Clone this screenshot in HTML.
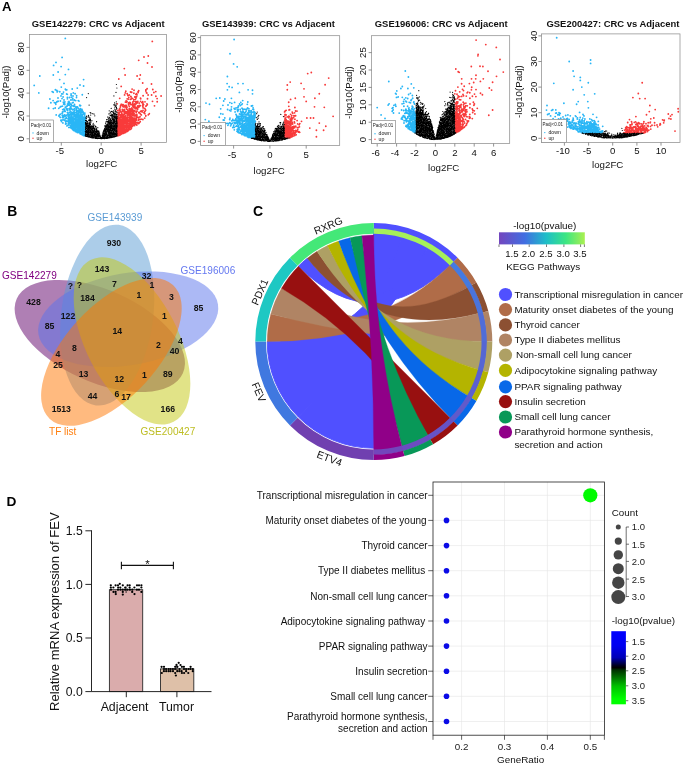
<!DOCTYPE html>
<html><head><meta charset="utf-8"><title>Figure</title>
<style>html,body{margin:0;padding:0;background:#fff}svg{display:block}text{font-family:"Liberation Sans", Arial, sans-serif}</style>
</head><body>
<svg width="685" height="764" viewBox="0 0 685 764">
<rect width="685" height="764" fill="#fff"/>
<path d="M34.2 85.4h0M38.8 92.9h0M39.8 76h0M48.6 108.2h0M49.9 99h0M50.9 102.7h0M52.2 91.6h0M53.1 100.6h0M53.2 92.2h0M53.3 75h0M53.4 108.6h0M53.6 65.4h0M54.4 102.6h0M55.2 108h0M55.4 89.7h0M55.6 103.2h0M55.8 104.3h0M56 102.6h0M56 62.4h0M56.2 114.9h0M56.8 90.4h0M57 101.7h0M57.2 91.9h0M57.6 91.2h0M58 98h0M58.1 101.2h0M58.1 72h0M58.8 108.3h0M58.8 115.9h0M59.5 115h0M59.7 79.6h0M59.8 91.7h0M60 117.1h0M60.1 107.1h0M60.3 114.2h0M60.4 101h0M60.4 117.4h0M60.9 120.2h0M61 106.5h0M61 95.9h0M61.1 66.6h0M61.3 87.1h0M61.5 121.5h0M61.6 120.2h0M61.7 93.9h0M62 98.6h0M62 113.4h0M62.1 57.4h0M62.3 115.5h0M62.5 106.1h0M62.5 111.9h0M62.6 115.3h0M62.6 112.7h0M62.6 117.5h0M62.7 109.6h0M62.9 122.9h0M62.9 93.8h0M63.1 119.7h0M63.1 96.9h0M63.4 102.2h0M63.4 117.6h0M63.5 92.1h0M63.6 116.4h0M63.6 104.1h0M64 108.9h0M64 100h0M64 83.4h0M64.1 109.8h0M64.2 111.3h0M64.3 116.5h0M64.4 115h0M64.6 120.3h0M64.6 102.9h0M64.8 104.5h0M64.8 109.9h0M64.9 101.8h0M65 119.1h0M65.2 111.4h0M65.3 38.4h0M65.3 74.6h0M65.3 107.2h0M65.3 115.5h0M65.4 89.2h0M65.5 118.6h0M65.6 121.2h0M65.6 124h0M65.8 89.8h0M65.8 122.8h0M66 123.8h0M66 117.1h0M66.1 123.4h0M66.3 108.3h0M66.4 115.2h0M66.6 106.2h0M66.7 94h0M66.8 89.8h0M66.8 121h0M66.8 118.3h0M66.9 109.8h0M67 125.9h0M67 106.3h0M67.2 108.9h0M67.3 125.3h0M67.3 94.3h0M67.4 97.5h0M67.4 112.6h0M67.4 98.8h0M67.5 104.1h0M67.7 110.3h0M67.7 121.2h0M67.9 114.5h0M67.9 112.3h0M67.9 105.1h0M68 113.1h0M68.1 116.6h0M68.2 114.2h0M68.2 115.2h0M68.2 119.1h0M68.3 123.4h0M68.3 101.9h0M68.3 121.4h0M68.3 120.8h0M68.4 103.5h0M68.4 102.2h0M68.5 69.4h0M68.6 122.7h0M68.7 124.3h0M68.9 123.9h0M68.9 125h0M68.9 127.4h0M69 101.4h0M69 117.8h0M69 108.8h0M69.1 114.9h0M69.2 105.2h0M69.2 119.7h0M69.2 122.5h0M69.4 109h0M69.4 121.3h0M69.5 97.5h0M69.6 102.6h0M69.6 115.7h0M69.6 118.6h0M69.8 112.7h0M69.8 109.8h0M69.9 115.4h0M70.1 121.8h0M70.2 111.2h0M70.2 117h0M70.2 118.2h0M70.2 103.8h0M70.3 120.4h0M70.3 119.4h0M70.3 107.2h0M70.3 123.5h0M70.4 108.8h0M70.4 114.4h0M70.5 127.6h0M70.6 125.6h0M70.6 126.4h0M70.7 127.8h0M70.7 122.5h0M70.8 104.6h0M70.8 106.7h0M70.8 125.4h0M70.8 120.9h0M70.9 114.6h0M70.9 100h0M71 111.9h0M71.1 114h0M71.1 93.9h0M71.1 95.5h0M71.3 128.1h0M71.3 119.3h0M71.3 104.4h0M71.4 118h0M71.5 118.4h0M71.5 123.5h0M71.5 97.4h0M71.5 108.5h0M71.5 124.1h0M71.5 127.2h0M71.7 116.5h0M71.7 108.7h0M71.8 105.6h0M71.8 115.7h0M72 122.1h0M72 118.3h0M72 112.7h0M72 124.8h0M72 114.7h0M72.1 125.4h0M72.2 89h0M72.3 127.2h0M72.3 120.2h0M72.3 128.6h0M72.3 102.8h0M72.3 112.5h0M72.4 129.3h0M72.4 121.8h0M72.4 109.7h0M72.5 126.4h0M72.5 99.8h0M72.5 119.7h0M72.5 123.7h0M72.6 118.3h0M72.8 98.3h0M72.8 112.9h0M72.9 128.3h0M72.9 121.3h0M72.9 118.7h0M72.9 113.9h0M73 96h0M73 127.7h0M73.1 123.8h0M73.1 102.5h0M73.1 117.7h0M73.1 120.4h0M73.2 128.8h0M73.3 125.7h0M73.3 112.5h0M73.3 105.9h0M73.3 92.9h0M73.4 117h0M73.4 130.2h0M73.5 114.8h0M73.5 122.7h0M73.5 124.4h0M73.6 128.6h0M73.7 106.2h0M73.8 114.6h0M73.8 127.2h0M73.8 109.7h0M73.8 121.6h0M73.9 130.6h0M73.9 119h0M73.9 122.6h0M74 125.2h0M74 111.6h0M74 119.8h0M74.1 129.9h0M74.2 100.3h0M74.2 115.9h0M74.3 108.7h0M74.3 99.8h0M74.4 129.5h0M74.4 123.3h0M74.4 113.1h0M74.4 124.6h0M74.5 116.5h0M74.5 104.4h0M74.5 110.3h0M74.6 121.9h0M74.7 126.5h0M74.7 114.3h0M74.7 106.1h0M74.7 113h0M74.8 115.9h0M74.8 115.2h0M74.8 118.6h0M74.9 127.6h0M75 130h0M75 120.1h0M75.1 124.4h0M75.1 93.7h0M75.1 125.8h0M75.2 129.1h0M75.2 120.3h0M75.3 117.3h0M75.3 123.6h0M75.4 122.4h0M75.5 131.6h0M75.5 127.8h0M75.5 112.4h0M75.5 131.2h0M75.6 125h0M75.6 128.3h0M75.6 107h0M75.6 127h0M75.7 123.1h0M75.7 124.7h0M75.7 100.6h0M75.8 130.4h0M75.8 116.8h0M75.9 112.6h0M75.9 121.8h0M76 109h0M76 129.5h0M76 122.2h0M76.1 131.6h0M76.1 117.8h0M76.1 126.8h0M76.1 119.2h0M76.3 112.4h0M76.3 110h0M76.3 119.9h0M76.3 120.3h0M76.3 114.7h0M76.4 115.6h0M76.4 114.4h0M76.5 131.5h0M76.5 115.9h0M76.5 119.2h0M76.5 97.6h0M76.5 114.9h0M76.6 121.1h0M76.6 107h0M76.6 95.7h0M76.7 124.4h0M76.8 123.3h0M76.9 111.2h0M76.9 126.2h0M76.9 132.1h0M76.9 125.4h0M76.9 127.3h0M77 114h0M77.1 119.8h0M77.1 107.8h0M77.1 117.2h0M77.2 131.1h0M77.3 129.3h0M77.3 88.1h0M77.3 130.4h0M77.4 122.3h0M77.4 121.9h0M77.4 128.2h0M77.4 111.8h0M77.4 132.6h0M77.5 124.2h0M77.5 129.1h0M77.5 107h0M77.5 124.9h0M77.6 116.7h0M77.7 132.4h0M77.7 127.1h0M77.7 114.7h0M77.8 110.3h0M77.8 113.7h0M77.8 119.7h0M77.9 115.8h0M77.9 120.5h0M77.9 131.1h0M78 122.6h0M78 117.9h0M78.1 118.7h0M78.1 123.7h0M78.1 126.2h0M78.2 110.8h0M78.2 129.8h0M78.3 121.8h0M78.3 128.5h0M78.3 100.6h0M78.3 108.1h0M78.4 113h0M78.4 114.8h0M78.4 132.3h0M78.4 114.1h0M78.5 120.3h0M78.5 122.9h0M78.7 110.9h0M78.7 111.6h0M78.8 125.6h0M78.8 119.1h0M78.9 123.6h0M78.9 132.6h0M78.9 126.2h0M78.9 124.8h0M78.9 126.8h0M79 101.1h0M79.1 116.6h0M79.1 128h0M79.1 131.5h0M79.1 119.9h0M79.1 128.7h0M79.2 121.7h0M79.2 109.6h0M79.2 115.4h0M79.3 130.6h0M79.3 118.2h0M79.4 120.9h0M79.4 118.3h0M79.4 109.3h0M79.4 131.6h0M79.5 121.5h0M79.5 126.2h0M79.7 105.2h0M79.7 118.8h0M79.7 111.7h0M79.8 131.4h0M79.9 125.6h0M79.9 123h0M79.9 115.7h0M79.9 124.2h0M79.9 112.9h0M80 85h0M80 129.7h0M80 116.8h0M80.1 119.8h0M80.1 105.9h0M80.1 122.8h0M80.1 110.7h0M80.2 110.5h0M80.2 132.6h0M80.2 129h0M80.2 128.3h0M80.2 133.8h0M80.2 114.7h0M80.2 126.9h0M80.3 116h0M80.3 118.1h0M80.4 115.1h0M80.4 131.3h0M80.4 128.5h0M80.4 121h0M80.4 123.9h0M80.4 112.4h0M80.4 110.1h0M80.5 122.1h0M80.5 125.3h0M80.5 108.7h0M80.6 105.6h0M80.8 119.4h0M80.8 130.4h0M80.8 126.8h0M80.8 132.3h0M80.9 116.9h0M81 133.3h0M81 114h0M81 122.4h0M81 110.9h0M81.1 129.5h0M81.1 133.6h0M81.2 126.9h0M81.2 119.1h0M81.2 124.6h0M81.2 121.1h0M81.2 118.2h0M81.2 133.4h0M81.3 119.3h0M81.3 112.8h0M81.4 134.3h0M81.4 130.4h0M81.4 112.5h0M81.5 123.6h0M81.5 116.7h0M81.6 126.6h0M81.6 129.4h0M81.7 118.7h0M81.7 114.9h0M81.8 122.8h0M81.8 121.3h0M81.9 134.6h0M82 109.5h0M82 130.8h0M82 125.8h0M82 110.7h0M82.1 132.4h0M82.1 127.4h0M82.1 116.2h0M82.2 128.4h0M82.2 124.5h0M82.2 127.9h0M82.3 132.4h0M82.3 122.7h0M82.3 94.7h0M82.4 122h0M82.5 131.5h0M82.5 117.8h0M82.5 118.7h0M82.6 124.4h0M82.6 119.6h0M82.6 133.7h0M82.6 125.2h0M82.6 121h0M82.7 129.2h0M82.7 112.6h0M82.8 132.8h0M82.8 130.4h0M82.8 114.7h0M82.8 116.7h0M82.9 123.6h0M82.9 111.4h0M83.1 126h0M83.1 135.2h0M83.1 127.5h0M83.2 129.4h0M83.2 128.3h0M83.2 112.4h0M83.2 120.9h0M83.3 129.8h0M83.3 117.7h0M83.3 117.3h0M83.4 114h0M83.4 123.8h0M83.4 127.6h0M83.5 112.7h0M83.5 132.9h0M83.6 124.1h0M83.6 79.6h0M83.6 86h0M83.7 125.3h0M83.8 119.4h0M83.8 135.5h0M83.9 122.7h0M83.9 134.4h0M83.9 122h0M83.9 126.6h0M83.9 131.7h0M83.9 130.6h0M84 118.9h0M84 135.3h0M84.1 123.8h0M84.1 124.5h0M84.2 130.3h0M84.3 132h0M84.3 135.7h0M84.5 119.8h0M84.6 133.3h0M84.6 121.8h0M84.6 134.2h0M84.6 117.8h0M84.7 114.2h0M84.7 115.8h0M84.7 122.2h0M84.7 125.1h0M84.8 129.1h0M84.8 126.2h0M84.8 127.3h0M84.8 134.8h0M84.9 113.1h0M84.9 130.9h0M85 127.8h0M85 120.2h0M85 132h0M85 119.8h0M85 122.6h0M85.1 128.8h0M85.1 124.6h0M85.1 126.7h0M85.1 118.8h0M85.1 126.9h0M85.1 123.6h0M85.1 117.9h0M85.1 128.4h0M85.1 133.3h0M85.1 133.8h0M85.1 130.3h0M85.1 135.5h0M85.1 117h0M85.2 131.4h0M85.2 135h0M85.2 125.7h0M85.2 121.5h0" stroke="#29b6f6" stroke-width="1.85" stroke-linecap="round" fill="none"/>
<path d="M117.2 119.4h0M117.2 130.6h0M117.2 132.1h0M117.2 127.2h0M117.2 135h0M117.2 117.1h0M117.2 135.5h0M117.2 125.4h0M117.2 128h0M117.2 120.3h0M117.2 129.6h0M117.3 124.6h0M117.3 133.7h0M117.3 130.7h0M117.3 122.2h0M117.3 123.4h0M117.3 117.4h0M117.3 132.8h0M117.3 126.5h0M117.3 103.8h0M117.3 123.9h0M117.4 123h0M117.4 126.4h0M117.4 135.5h0M117.5 127.5h0M117.5 116.8h0M117.5 131h0M117.5 110.4h0M117.5 134.7h0M117.6 120.6h0M117.7 129.1h0M117.7 130.4h0M117.7 117.3h0M117.8 125.4h0M117.8 124h0M117.9 121.3h0M118 128.6h0M118.1 118.8h0M118.1 132h0M118.1 134.1h0M118.2 114.4h0M118.2 120.1h0M118.2 112.5h0M118.3 115.4h0M118.3 132.6h0M118.3 127.3h0M118.3 133.7h0M118.4 117h0M118.4 135.6h0M118.4 115.2h0M118.4 113.7h0M118.5 121.7h0M118.5 130.1h0M118.5 124.9h0M118.5 132h0M118.5 119.2h0M118.5 132.6h0M118.6 131h0M118.6 135.4h0M118.6 120.9h0M118.8 79h0M118.9 118h0M119 119.7h0M119 112.8h0M119 123h0M119 126.3h0M119 129.5h0M119 123.3h0M119.1 128.5h0M119.2 125.1h0M119.2 110h0M119.2 135.2h0M119.3 120.1h0M119.3 112.2h0M119.3 112.7h0M119.4 121.1h0M119.5 121h0M119.6 108.7h0M119.6 131.8h0M119.6 122.3h0M119.6 118h0M119.7 98.3h0M119.7 114.3h0M119.7 128.6h0M119.8 118.5h0M119.8 124.7h0M119.8 134.2h0M119.9 125.2h0M119.9 132.9h0M119.9 127.2h0M119.9 110.3h0M119.9 123.8h0M120 130.6h0M120 129.4h0M120 115h0M120.1 125.9h0M120.1 109.1h0M120.1 131.1h0M120.2 115.6h0M120.2 116.8h0M120.2 119.2h0M120.2 128.4h0M120.3 132.3h0M120.3 120.1h0M120.3 125.5h0M120.4 133.1h0M120.4 134.7h0M120.4 120.5h0M120.4 131.5h0M120.4 121.5h0M120.4 107h0M120.4 126.5h0M120.5 128.8h0M120.5 116.1h0M120.6 105.6h0M120.6 124.2h0M120.6 122.3h0M120.6 123.7h0M120.7 111.7h0M120.7 117.4h0M120.8 134h0M120.9 127.1h0M121 114.7h0M121 117h0M121.1 130.2h0M121.1 104.4h0M121.2 86.4h0M121.2 120.2h0M121.3 124.2h0M121.3 132.7h0M121.3 126h0M121.3 121.6h0M121.3 128.7h0M121.3 134h0M121.3 122.1h0M121.4 131.6h0M121.4 116.4h0M121.4 125.2h0M121.4 123.7h0M121.5 126.9h0M121.5 119.3h0M121.5 119.2h0M121.5 130.1h0M121.6 128.2h0M121.7 104.3h0M121.7 112.2h0M121.7 113.3h0M121.8 130.9h0M121.8 113.7h0M121.9 117.6h0M122 115.1h0M122.2 119.8h0M122.2 133.3h0M122.2 131.9h0M122.3 109.4h0M122.3 110.1h0M122.4 105.8h0M122.4 122.2h0M122.4 114.7h0M122.4 126.7h0M122.5 121h0M122.5 117.2h0M122.5 129.5h0M122.6 123.2h0M122.6 117.9h0M122.6 130.6h0M122.6 115.7h0M122.6 124.9h0M122.7 130.3h0M122.8 125.7h0M122.8 126.8h0M122.8 111.1h0M122.9 133.6h0M122.9 106.4h0M122.9 128.3h0M122.9 119h0M123 121.3h0M123.1 104.6h0M123.1 118.3h0M123.1 115.3h0M123.2 114.4h0M123.2 121.3h0M123.2 127.5h0M123.2 117.9h0M123.3 106.7h0M123.3 123.9h0M123.4 122.1h0M123.4 128.5h0M123.4 126.5h0M123.5 116.3h0M123.5 130.5h0M123.5 120.3h0M123.6 132h0M123.6 129.1h0M123.6 133.1h0M123.8 120.1h0M123.8 125h0M123.9 111.8h0M123.9 124.9h0M123.9 116.8h0M123.9 130.8h0M123.9 109.9h0M124 114.4h0M124 124.4h0M124.1 116.6h0M124.1 123.1h0M124.2 119.2h0M124.2 131.8h0M124.2 126.8h0M124.3 121.6h0M124.3 68.6h0M124.4 112.5h0M124.4 105.7h0M124.4 112.7h0M124.4 129.4h0M124.4 114.6h0M124.4 127.8h0M124.4 109.4h0M124.4 126.6h0M124.4 123h0M124.5 125.9h0M124.5 117.8h0M124.6 94.9h0M124.7 132.7h0M124.7 106.9h0M124.7 110.8h0M124.7 131.1h0M124.7 121.1h0M124.8 129.7h0M124.8 119.9h0M124.9 128.8h0M125 113.8h0M125.1 120.5h0M125.1 75h0M125.2 112.1h0M125.2 119.2h0M125.3 92.9h0M125.4 123.2h0M125.4 122h0M125.4 115.8h0M125.4 102.1h0M125.4 105.5h0M125.5 126.6h0M125.5 132.4h0M125.6 119.6h0M125.6 131.1h0M125.6 116.5h0M125.6 125.6h0M125.6 130.1h0M125.7 113.2h0M125.7 117.6h0M125.8 122.9h0M125.8 127h0M125.8 124.1h0M125.8 91.2h0M125.9 118.2h0M125.9 106.2h0M125.9 117.1h0M126 119.5h0M126.1 113.3h0M126.1 131.8h0M126.1 130.5h0M126.1 112.4h0M126.1 100.9h0M126.2 107.7h0M126.2 111.6h0M126.3 102.2h0M126.4 120.6h0M126.4 128.7h0M126.4 105.5h0M126.4 122.3h0M126.4 131.3h0M126.5 109.1h0M126.6 125h0M126.6 121.3h0M126.7 128h0M126.7 127.4h0M126.7 124.3h0M126.7 123.2h0M126.8 126.5h0M126.8 127.9h0M126.8 129.2h0M126.9 124h0M126.9 120.6h0M127 118.9h0M127 101.4h0M127 130.6h0M127 121.5h0M127.1 114h0M127.1 117.3h0M127.1 107.1h0M127.1 127.4h0M127.1 123.5h0M127.2 98.8h0M127.2 93.7h0M127.3 115.3h0M127.3 131.4h0M127.4 126.6h0M127.4 122.3h0M127.5 120h0M127.5 117.1h0M127.5 109.3h0M127.5 125.3h0M127.6 111.2h0M127.6 113h0M127.7 115.6h0M127.8 110.3h0M127.8 126.5h0M127.8 131h0M127.9 95.5h0M128 123h0M128 121.5h0M128.1 113.8h0M128.1 117.1h0M128.2 117.9h0M128.2 127.2h0M128.2 124.9h0M128.2 125.5h0M128.3 129.4h0M128.4 111.1h0M128.4 103h0M128.4 112.8h0M128.6 114.8h0M128.6 130.3h0M128.6 120.8h0M128.6 99.1h0M128.6 104.7h0M128.6 128.5h0M128.7 123.3h0M128.7 129.8h0M128.7 120.9h0M128.8 111h0M128.8 97.3h0M128.8 112.9h0M128.8 103.3h0M129 124.1h0M129 119.7h0M129.1 128.2h0M129.2 123.9h0M129.2 108.8h0M129.2 114h0M129.2 117.1h0M129.3 126.6h0M129.3 95h0M129.3 106.5h0M129.4 118h0M129.5 102.4h0M129.5 129.3h0M129.5 125h0M129.5 115.6h0M129.6 122.8h0M129.6 127.6h0M129.6 121.3h0M129.7 121.4h0M129.8 119h0M129.8 110.2h0M129.9 120.5h0M129.9 124.2h0M129.9 129.3h0M130 126.5h0M130 113.7h0M130 108.8h0M130.1 112.2h0M130.2 120.1h0M130.2 117.4h0M130.2 127.6h0M130.2 103.5h0M130.2 122.6h0M130.3 102.7h0M130.3 113.1h0M130.4 111h0M130.4 123.3h0M130.4 114.5h0M130.5 92h0M130.5 116.5h0M130.6 99.3h0M130.6 104.6h0M130.7 114.7h0M130.7 129.3h0M130.7 117.7h0M130.8 96.3h0M130.8 121.9h0M130.8 125.9h0M130.8 108.9h0M130.8 111h0M131 122.3h0M131.1 111.9h0M131.1 99h0M131.1 97h0M131.2 116.7h0M131.3 125.3h0M131.4 114h0M131.4 115.9h0M131.4 128.2h0M131.4 127.7h0M131.5 110.2h0M131.5 123.9h0M131.5 120.7h0M131.5 108.4h0M131.5 119.5h0M131.6 126.3h0M131.6 118.7h0M131.7 92.2h0M131.7 125.6h0M131.8 122.3h0M131.8 126.8h0M131.8 119.6h0M131.8 121.9h0M131.9 107.9h0M131.9 112h0M131.9 113.4h0M132 124.8h0M132 123.7h0M132.1 114.1h0M132.1 115.9h0M132.1 89.1h0M132.2 104.4h0M132.3 117.9h0M132.4 109.1h0M132.5 110.5h0M132.5 103.3h0M132.5 105.4h0M132.5 121.1h0M132.5 98.4h0M132.6 126.1h0M132.7 106h0M132.8 118h0M132.9 114.1h0M132.9 101.9h0M133 122.5h0M133.1 112.2h0M133.1 121.3h0M133.1 123.5h0M133.2 115.4h0M133.2 120h0M133.3 118.6h0M133.3 110.8h0M133.3 125.4h0M133.4 112.7h0M133.4 110.5h0M133.4 114.9h0M133.7 106.3h0M133.7 99.7h0M133.7 104.3h0M133.7 107.5h0M133.9 101.3h0M133.9 124.1h0M133.9 93.2h0M134 90.2h0M134 114.8h0M134 118.1h0M134 105.5h0M134 123.7h0M134.1 121.4h0M134.1 116.1h0M134.1 111.8h0M134.2 122.1h0M134.3 103.9h0M134.3 113.8h0M134.4 110.7h0M134.4 119.8h0M134.6 125.5h0M134.6 118.2h0M134.7 115.5h0M134.7 124.5h0M134.8 97h0M134.9 119.9h0M135.1 123.2h0M135.1 122.9h0M135.1 106.8h0M135.2 108.5h0M135.3 119.1h0M135.4 122.1h0M135.4 107.4h0M135.4 104.7h0M135.4 99.5h0M135.6 102h0M135.6 121.2h0M135.6 97.1h0M135.6 119.5h0M135.7 115.7h0M135.7 123.5h0M135.9 94.4h0M135.9 108.8h0M135.9 114.9h0M135.9 120.4h0M136 111.2h0M136 98.1h0M136.1 112.4h0M136.1 102.9h0M136.1 122.6h0M136.2 124.2h0M136.3 119h0M136.3 103.6h0M136.3 117.1h0M136.4 118h0M136.5 101.6h0M136.5 93.6h0M136.5 124.1h0M136.5 120h0M136.6 115.6h0M136.6 96.6h0M136.8 125.1h0M136.8 107.3h0M136.8 114.3h0M136.9 115.4h0M137 111.2h0M137.1 94.8h0M137.1 76h0M137.3 117.4h0M137.5 107.9h0M137.6 109.2h0M137.6 102.8h0M137.7 122.3h0M137.8 106h0M137.8 117.2h0M137.8 101.5h0M137.9 123.2h0M138.1 92.6h0M138.1 91.7h0M138.5 120.3h0M138.6 123.6h0M138.7 119.3h0M138.7 60.3h0M138.7 90.7h0M138.8 107.2h0M138.8 117.6h0M138.9 112.5h0M138.9 112.8h0M139.1 122.9h0M139.3 105.4h0M139.3 103.1h0M139.4 112.3h0M139.5 106.2h0M139.5 79h0M139.9 119.4h0M140 116.7h0M140.2 121.7h0M140.3 75h0M140.3 113.8h0M140.5 105.6h0M140.5 98.2h0M140.6 101.4h0M140.7 98.7h0M140.8 111.3h0M141.2 110.8h0M141.3 114.9h0M141.3 119.1h0M141.9 102.6h0M142.2 111.9h0M142.7 83h0M142.7 101.7h0M142.9 119.5h0M142.9 105.8h0M142.9 104.7h0M142.9 106.7h0M143 110.3h0M143 103.2h0M143.1 95.7h0M143.2 107.9h0M143.6 104.6h0M144 57h0M144 112.4h0M144.1 112.9h0M144.7 118.1h0M144.8 108.3h0M144.9 111.5h0M145 101.8h0M145 113.8h0M145.4 109.4h0M145.6 110.2h0M145.8 116h0M145.8 106.1h0M145.8 89.9h0M145.9 91h0M145.9 115.8h0M146.2 105.9h0M146.5 92.7h0M146.9 93.1h0M147 104h0M147.1 88.7h0M147.3 104.7h0M147.5 98.7h0M147.5 63h0M148.1 95h0M148.3 56h0M148.3 114.8h0M149.3 113.7h0M151.5 84h0M151.6 95h0M152 67h0M152.3 41.4h0M152.5 101.3h0M152.8 89.5h0M153.9 92.5h0M154.5 105.8h0M155.8 91.6h0M155.9 96.2h0M157.1 98.6h0M157.2 101.7h0M161.1 96h0" stroke="#f83a3a" stroke-width="1.85" stroke-linecap="round" fill="none"/>
<path d="M85.3 131.6h0M85.3 135.4h0M85.4 134.6h0M85.4 131.6h0M85.5 134.7h0M85.5 122.4h0M85.5 127.8h0M85.5 129.5h0M85.5 124.1h0M85.5 123h0M85.5 120.5h0M85.6 136.2h0M85.6 123.9h0M85.6 133.3h0M85.7 126h0M85.7 127h0M85.7 129h0M85.7 132.7h0M85.7 128.2h0M85.8 124.9h0M85.9 130.7h0M85.9 130h0M85.9 117.9h0M86 126.7h0M86.1 132.5h0M86.2 125.7h0M86.2 120.2h0M86.2 133.7h0M86.2 123.1h0M86.3 125.3h0M86.3 128.5h0M86.3 131.4h0M86.3 131.9h0M86.3 123.7h0M86.3 124.8h0M86.3 136.4h0M86.4 130.8h0M86.4 135.8h0M86.4 118.3h0M86.4 128.7h0M86.5 134h0M86.6 134.8h0M86.6 127.8h0M86.6 120.5h0M86.6 97.6h0M86.7 122h0M86.7 116h0M86.7 121.4h0M86.7 116.8h0M86.7 130.5h0M86.8 134.9h0M86.8 126.4h0M86.8 128h0M86.8 125.8h0M86.9 136.5h0M86.9 132.4h0M87 123.5h0M87 127.7h0M87 124.4h0M87 125.5h0M87 129h0M87.1 131.7h0M87.1 136.1h0M87.1 134.2h0M87.3 133.5h0M87.3 129.6h0M87.4 131.3h0M87.4 132.2h0M87.4 124.3h0M87.5 131h0M87.6 136.7h0M87.7 133.2h0M87.7 129.4h0M87.7 132.5h0M87.7 121.7h0M87.7 122.9h0M87.8 126.5h0M87.8 125.3h0M87.8 135.7h0M87.8 135.2h0M87.9 127.5h0M88 130.1h0M88 133.9h0M88 128.4h0M88 126.2h0M88.1 123.7h0M88.1 130.6h0M88.1 131.3h0M88.2 117.2h0M88.3 135.9h0M88.3 125.3h0M88.3 93.6h0M88.4 115.3h0M88.5 134h0M88.5 120.2h0M88.5 132.4h0M88.5 126.8h0M88.6 133.5h0M88.6 137.1h0M88.6 129.8h0M88.7 128.6h0M88.7 134.7h0M88.7 131.7h0M88.7 125.9h0M88.8 116.1h0M88.8 129.2h0M88.8 136.5h0M88.8 130.2h0M88.8 127.6h0M88.9 133.2h0M89 130.6h0M89 129.9h0M89 124.7h0M89 128.7h0M89.1 125.6h0M89.1 123h0M89.1 136.4h0M89.1 127h0M89.1 105.1h0M89.2 135.3h0M89.2 127.6h0M89.2 131.5h0M89.3 132.4h0M89.3 122.3h0M89.3 134.2h0M89.3 120.1h0M89.4 135.6h0M89.4 126.3h0M89.5 128.6h0M89.5 120.8h0M89.5 123.6h0M89.6 131.8h0M89.6 136.9h0M89.6 135.9h0M89.7 124.9h0M89.7 119.2h0M89.8 129.1h0M89.8 136.2h0M89.8 117.6h0M89.8 126.6h0M89.9 118.2h0M89.9 123.4h0M90 127.2h0M90 133.8h0M90 132.1h0M90.1 137.4h0M90.1 132.5h0M90.1 131.3h0M90.1 126h0M90.1 130.4h0M90.2 128.2h0M90.2 134.6h0M90.2 129.6h0M90.2 112.6h0M90.3 124.6h0M90.4 134.3h0M90.4 119.9h0M90.4 129.8h0M90.5 120.9h0M90.5 126h0M90.5 124.6h0M90.5 119.4h0M90.5 127.5h0M90.5 128.3h0M90.6 122.9h0M90.7 130.5h0M90.7 132.6h0M90.7 131.6h0M90.7 135.8h0M90.7 127.1h0M90.7 115.1h0M90.8 133.2h0M90.9 135.1h0M91 137.6h0M91 131.5h0M91 136.6h0M91 113.2h0M91 137.4h0M91 122h0M91.1 128.8h0M91.1 134.6h0M91.1 134.7h0M91.1 133.7h0M91.2 136.3h0M91.3 126.7h0M91.3 137.1h0M91.4 127.7h0M91.4 131.5h0M91.5 129.9h0M91.5 129.2h0M91.5 132.8h0M91.6 125.8h0M91.6 135.6h0M91.7 128h0M91.7 137.7h0M91.7 132.2h0M91.8 134h0M91.9 130.3h0M91.9 120.7h0M91.9 132.6h0M92 131.5h0M92 136.3h0M92.2 135h0M92.3 129.9h0M92.3 137.9h0M92.3 133.2h0M92.4 126.4h0M92.4 127.8h0M92.4 130.6h0M92.4 135.8h0M92.4 128.2h0M92.4 133.9h0M92.5 129h0M92.6 137.2h0M92.6 132.2h0M92.6 133.8h0M92.7 130.1h0M92.7 135.7h0M92.7 130.6h0M92.7 137h0M92.8 113.7h0M92.9 134.4h0M92.9 124.9h0M92.9 132.8h0M93 135.4h0M93 126.9h0M93.1 128.5h0M93.1 128.7h0M93.1 136.7h0M93.1 126.3h0M93.2 123.3h0M93.3 138.1h0M93.3 131.4h0M93.3 127.2h0M93.4 131.7h0M93.4 137.7h0M93.4 136.6h0M93.4 132h0M93.5 128.4h0M93.5 127.4h0M93.5 126.8h0M93.5 133.2h0M93.5 137.4h0M93.5 126.4h0M93.6 133h0M93.6 134.8h0M93.6 128.7h0M93.7 135.4h0M93.8 130.9h0M93.9 124.9h0M93.9 134.5h0M93.9 130.2h0M94.1 129.6h0M94.1 114.1h0M94.2 125.2h0M94.2 128.8h0M94.2 128h0M94.2 130.1h0M94.3 132.8h0M94.4 129.8h0M94.4 136.2h0M94.4 134.2h0M94.5 135.9h0M94.5 131h0M94.5 133.5h0M94.5 132.1h0M94.7 137.2h0M94.7 137.8h0M94.8 115.8h0M94.8 135.2h0M94.9 134.1h0M94.9 138h0M94.9 133.7h0M95 129.6h0M95 130.7h0M95.1 128.3h0M95.1 126.8h0M95.2 136.1h0M95.2 131.4h0M95.2 138.4h0M95.4 131.7h0M95.4 134.9h0M95.4 133.1h0M95.5 136.5h0M95.5 137.5h0M95.6 126.2h0M95.6 133.7h0M95.7 132.2h0M95.8 136.9h0M95.8 133.9h0M95.9 137.1h0M96.2 129.6h0M96.2 138.1h0M96.2 127.1h0M96.2 132.7h0M96.2 130.8h0M96.2 135.7h0M96.3 138.4h0M96.3 131.6h0M96.3 129.3h0M96.3 134.8h0M96.4 136.4h0M96.4 137.3h0M96.5 138.4h0M96.5 132.5h0M96.5 128.6h0M96.5 131.3h0M96.6 134.3h0M96.6 135.5h0M96.6 121.7h0M96.6 129.4h0M96.7 134.7h0M96.7 132.2h0M96.8 133.8h0M96.9 138.2h0M97 130h0M97 130.7h0M97.1 131.7h0M97.2 136.7h0M97.2 130.9h0M97.2 138.3h0M97.5 135.9h0M97.5 134.2h0M97.6 131.6h0M97.6 133.1h0M97.7 138.6h0M97.7 135.1h0M97.8 127.7h0M97.9 137.6h0M97.9 132.9h0M98 133.8h0M98 137.6h0M98 133h0M98 135.7h0M98.1 130.8h0M98.1 132h0M98.2 137.3h0M98.3 134.6h0M98.3 131.6h0M98.4 136.7h0M98.5 135.3h0M98.6 138.5h0M98.6 134.4h0M98.7 133.2h0M98.7 136.8h0M98.8 137h0M98.9 131.7h0M98.9 131h0M99 136h0M99.1 135.2h0M99.1 138.5h0M99.2 138.3h0M99.3 132.6h0M99.6 133.7h0M99.7 136.8h0M99.7 134h0M99.8 135.2h0M99.8 138.5h0M99.8 138.3h0M100 135.5h0M100.1 137h0M100.2 135.8h0M100.3 136.2h0M100.4 138.4h0M100.5 138.1h0M100.7 137.4h0M101.1 138.3h0M101.1 138.7h0M101.5 137.6h0M101.7 137.8h0M101.7 137.3h0M101.8 138.7h0M102.1 135.8h0M102.4 136.4h0M102.4 134.9h0M102.4 138.4h0M102.4 136.9h0M102.5 135.4h0M102.6 135h0M102.7 137.6h0M102.8 134.5h0M102.9 133.4h0M103 132h0M103.1 136.3h0M103.1 132.6h0M103.3 136.7h0M103.3 137.2h0M103.4 138.5h0M103.4 134.9h0M103.4 135.8h0M103.5 131.7h0M103.6 137.7h0M103.7 133.8h0M103.7 130.9h0M103.7 133h0M103.8 134.5h0M103.8 130.4h0M103.8 130h0M104 131h0M104 137.2h0M104 135.9h0M104.1 131.7h0M104.2 138.2h0M104.2 135.3h0M104.3 138.7h0M104.3 130h0M104.4 134.5h0M104.5 128.5h0M104.5 130.5h0M104.5 129h0M104.5 133.1h0M104.6 136.8h0M104.6 133.6h0M104.7 129.2h0M104.7 125.8h0M104.7 138.5h0M104.8 135.1h0M104.9 132.9h0M104.9 129.8h0M104.9 137.3h0M104.9 131.9h0M104.9 136h0M105 133.8h0M105 128h0M105.1 130.6h0M105.1 131.5h0M105.2 126.7h0M105.2 136.8h0M105.2 127.9h0M105.3 138.2h0M105.3 134.6h0M105.4 127.3h0M105.4 133h0M105.5 135.5h0M105.6 126.1h0M105.6 129h0M105.6 136.9h0M105.6 130.5h0M105.7 137.2h0M105.7 123.7h0M105.7 134.4h0M105.7 135h0M105.8 131.2h0M105.8 126.9h0M105.8 133.8h0M105.8 129.8h0M105.9 125.4h0M105.9 122.2h0M106 138.4h0M106 138.3h0M106.1 128.3h0M106.1 132.2h0M106.2 130.9h0M106.2 125.8h0M106.3 121.3h0M106.4 131.2h0M106.4 131.9h0M106.4 134.6h0M106.5 133.7h0M106.5 126.4h0M106.5 137.5h0M106.6 119.7h0M106.6 129.4h0M106.6 136.8h0M106.7 125.1h0M106.7 132.4h0M106.7 135.9h0M106.7 127.1h0M106.7 138.5h0M106.7 128.1h0M106.7 135.1h0M106.7 137.7h0M106.8 130h0M106.8 124.5h0M106.9 132.3h0M106.9 135.6h0M106.9 129.4h0M107 127.8h0M107 124.9h0M107 134.1h0M107 132.6h0M107 133.8h0M107 128.6h0M107.1 135.3h0M107.2 136.4h0M107.2 138.4h0M107.3 125h0M107.4 121.3h0M107.5 138.2h0M107.5 128.9h0M107.5 125.8h0M107.5 123.8h0M107.5 131.3h0M107.6 126.4h0M107.6 130.6h0M107.6 136.9h0M107.6 126.9h0M107.7 136.2h0M107.7 125.1h0M107.7 130.6h0M107.7 135.5h0M107.7 122.2h0M107.8 137.5h0M107.8 135h0M107.8 129.5h0M107.9 116.9h0M107.9 119.5h0M108 128.1h0M108.1 117.8h0M108.1 129.3h0M108.2 138.1h0M108.2 134h0M108.2 126.2h0M108.2 124.8h0M108.2 131.5h0M108.3 121.6h0M108.3 121h0M108.3 127.7h0M108.3 122.7h0M108.4 132.8h0M108.4 133.6h0M108.4 132.3h0M108.4 125.3h0M108.5 137.3h0M108.5 124.5h0M108.5 130.6h0M108.5 121h0M108.6 133.9h0M108.6 132.7h0M108.7 135.2h0M108.7 123.5h0M108.7 135.7h0M108.8 126h0M108.8 127h0M108.8 131.5h0M108.9 128.8h0M108.9 120.3h0M108.9 118.7h0M108.9 121.2h0M108.9 122.1h0M108.9 127.8h0M108.9 132.2h0M108.9 137.9h0M109 114.1h0M109.1 123.1h0M109.1 129.8h0M109.1 136.2h0M109.1 128.4h0M109.1 134.4h0M109.1 113.6h0M109.1 124.6h0M109.2 110.8h0M109.2 122.5h0M109.3 134.2h0M109.3 133.1h0M109.3 129.8h0M109.3 128h0M109.3 136.4h0M109.3 121.6h0M109.3 118.9h0M109.4 130.8h0M109.4 129.3h0M109.4 126.5h0M109.5 136.9h0M109.5 120.8h0M109.6 123.7h0M109.6 134.9h0M109.6 137.8h0M109.6 117.4h0M109.7 135.7h0M109.8 127.4h0M109.8 133.5h0M109.8 123.2h0M109.8 125.7h0M109.8 132.1h0M109.8 131h0M109.9 125.1h0M109.9 135.1h0M110 129.8h0M110 122.3h0M110 134h0M110.1 132.5h0M110.1 115.7h0M110.1 119.1h0M110.1 133.2h0M110.2 137.7h0M110.2 118.5h0M110.2 123.2h0M110.3 112.3h0M110.3 137.1h0M110.3 130.3h0M110.3 119.7h0M110.3 124.6h0M110.4 136.7h0M110.4 126.1h0M110.4 132.4h0M110.4 128h0M110.4 130.9h0M110.4 135.5h0M110.5 120.8h0M110.5 128.7h0M110.5 121.7h0M110.5 125.3h0M110.6 126.7h0M110.6 127.7h0M110.6 123.6h0M110.6 137.7h0M110.6 135.5h0M110.7 121h0M110.7 119.1h0M110.7 122.9h0M110.7 125.9h0M110.8 126.8h0M110.8 129.7h0M110.8 133.2h0M110.8 134.8h0M110.8 120h0M110.8 132.1h0M110.9 122.6h0M110.9 130.4h0M110.9 134.2h0M110.9 113.8h0M111 127.3h0M111 121.2h0M111 115.4h0M111 128.9h0M111.1 124.1h0M111.1 133h0M111.2 125.6h0M111.2 108.4h0M111.2 136.4h0M111.2 111.4h0M111.2 128h0M111.2 124.4h0M111.3 131.6h0M111.4 137.3h0M111.4 120.5h0M111.4 132.3h0M111.4 121.7h0M111.4 116.9h0M111.4 133.7h0M111.5 135.8h0M111.5 125.1h0M111.5 127.5h0M111.5 115.6h0M111.6 137.6h0M111.6 124.6h0M111.6 123.8h0M111.6 122.6h0M111.6 131.1h0M111.7 126.2h0M111.7 132.4h0M111.8 135h0M111.8 137h0M111.8 133.9h0M111.9 120h0M111.9 130.8h0M111.9 111.7h0M111.9 114.3h0M112 136.6h0M112 122.9h0M112 128.2h0M112 130.1h0M112 118.4h0M112 126.7h0M112.1 128.8h0M112.1 115.3h0M112.1 126.5h0M112.2 131.1h0M112.2 124.6h0M112.3 116.8h0M112.3 125.6h0M112.3 133.2h0M112.3 118.2h0M112.3 127.7h0M112.3 133.1h0M112.4 129.6h0M112.4 119.7h0M112.4 117.6h0M112.4 111.8h0M112.5 119.2h0M112.5 123.3h0M112.5 123.6h0M112.5 126.1h0M112.6 116h0M112.6 128.7h0M112.7 134h0M112.7 137.3h0M112.7 134.8h0M112.7 115.1h0M112.7 135.8h0M112.8 122h0M112.8 136.2h0M112.8 130.3h0M112.8 121.9h0M112.8 132h0M112.8 121.1h0M112.9 127.9h0M112.9 128h0M112.9 130.1h0M113 126h0M113 121.4h0M113 122.7h0M113 115.8h0M113 125.5h0M113.1 114.2h0M113.1 135.2h0M113.2 129.1h0M113.2 133h0M113.2 122.5h0M113.3 133.5h0M113.3 132.1h0M113.3 135.8h0M113.3 129.7h0M113.4 126.5h0M113.4 118.5h0M113.4 110.9h0M113.4 119.2h0M113.4 123.5h0M113.4 120.5h0M113.4 112.3h0M113.5 120.2h0M113.5 116h0M113.5 136.7h0M113.5 137.1h0M113.6 124.3h0M113.6 113.4h0M113.6 131h0M113.6 134.2h0M113.6 127.7h0M113.6 132.2h0M113.6 125.5h0M113.6 127.9h0M113.7 129.6h0M113.7 116.8h0M113.8 122.1h0M113.8 104.8h0M113.8 134.3h0M113.8 129.3h0M113.8 133.1h0M113.8 118.4h0M113.8 131h0M113.8 117.6h0M113.8 136.3h0M113.8 137h0M113.9 95.9h0M113.9 123.4h0M114 113.2h0M114 122.9h0M114 119.2h0M114 126.4h0M114.1 104.5h0M114.1 119.7h0M114.1 121h0M114.1 121.7h0M114.1 124.8h0M114.1 133.3h0M114.2 128.4h0M114.2 130.4h0M114.3 126.7h0M114.3 114.9h0M114.3 115.9h0M114.3 136.1h0M114.3 135h0M114.4 114.1h0M114.4 119.9h0M114.4 114.8h0M114.4 131.2h0M114.4 119.2h0M114.5 120.6h0M114.5 127.8h0M114.6 136.9h0M114.6 128h0M114.6 117.3h0M114.6 102.9h0M114.6 129.7h0M114.7 109.1h0M114.7 133.8h0M114.7 125h0M114.7 125.8h0M114.7 134.6h0M114.7 105.2h0M114.7 135.8h0M114.7 116.6h0M114.7 126.5h0M114.8 121.9h0M114.8 132.9h0M114.9 128.8h0M114.9 136.7h0M114.9 107.2h0M114.9 132.3h0M114.9 134.3h0M115 122.9h0M115 111.1h0M115 130.5h0M115 113h0M115 121.7h0M115.1 124.2h0M115.1 124h0M115.1 118.2h0M115.1 128.2h0M115.2 134.6h0M115.2 123.1h0M115.2 113.3h0M115.2 122.4h0M115.2 125.6h0M115.3 116.8h0M115.3 126.7h0M115.3 130.4h0M115.3 110.6h0M115.4 131.6h0M115.4 114.1h0M115.4 127.4h0M115.4 132.8h0M115.4 111.7h0M115.4 129.9h0M115.5 128.7h0M115.7 131.4h0M115.7 136h0M115.7 133.6h0M115.7 136.3h0M115.7 135h0M115.8 117.9h0M115.8 121.5h0M115.8 105h0M115.8 118.2h0M115.8 116h0M115.8 124.2h0M115.8 120h0M115.8 106.4h0M115.9 120.5h0M115.9 119.2h0M115.9 126.2h0M115.9 123.6h0M115.9 115.3h0M116 114.5h0M116 92.4h0M116 120.1h0M116 117.9h0M116 125h0M116 116.3h0M116.1 118.3h0M116.1 114.3h0M116.1 124.5h0M116.1 123.4h0M116.1 109.4h0M116.1 134.4h0M116.1 105.5h0M116.2 117.4h0M116.2 132.8h0M116.2 133.2h0M116.2 111.8h0M116.2 125.9h0M116.3 135h0M116.3 118.9h0M116.3 101.8h0M116.3 129.9h0M116.3 103.8h0M116.4 84.5h0M116.5 122.9h0M116.5 136.2h0M116.5 121.3h0M116.5 130.4h0M116.5 107.4h0M116.5 131.8h0M116.5 127.7h0M116.5 131.3h0M116.6 126.7h0M116.6 135.4h0M116.6 122h0M116.6 108.5h0M116.6 128.7h0M116.6 121h0M116.6 128.5h0M116.6 119.3h0M116.7 135.9h0M116.7 119.9h0M116.7 128.8h0M116.8 132.2h0M116.8 132.8h0M116.8 128.6h0M116.8 136.2h0M116.8 108.4h0M116.8 120.7h0M116.8 114.4h0M116.8 130.2h0M116.8 129.5h0M116.8 112.1h0M116.9 124.7h0M116.9 115.9h0M116.9 88h0M117 117.7h0M117 114.1h0M117 112.3h0M117 131.2h0M117 133.4h0M117 121.7h0M117 122h0M117.1 122.9h0M117.1 125.2h0M117.1 123.8h0M117.1 135.3h0M117.1 116.6h0M117.1 134.1h0M117.1 127.1h0M117.1 126h0M117.1 126.8h0M117.2 118.3h0" stroke="#000" stroke-width="1.2" stroke-linecap="round" fill="none"/>
<rect x="29.6" y="34.4" width="136.9" height="108.2" fill="none" stroke="#888" stroke-width="0.7"/>
<text x="59.8" y="153.9" font-size="9.6" text-anchor="middle" fill="#111">-5</text>
<text x="101.2" y="153.9" font-size="9.6" text-anchor="middle" fill="#111">0</text>
<text x="141.1" y="153.9" font-size="9.6" text-anchor="middle" fill="#111">5</text>
<text font-size="9.6" text-anchor="middle" fill="#111" transform="translate(24.3 138.8) rotate(-90)">0</text>
<text font-size="9.6" text-anchor="middle" fill="#111" transform="translate(24.3 116) rotate(-90)">20</text>
<text font-size="9.6" text-anchor="middle" fill="#111" transform="translate(24.3 93.1) rotate(-90)">40</text>
<text font-size="9.6" text-anchor="middle" fill="#111" transform="translate(24.3 70.3) rotate(-90)">60</text>
<text font-size="9.6" text-anchor="middle" fill="#111" transform="translate(24.3 47.4) rotate(-90)">80</text>
<path d="M61.3 142.6v3M101.2 142.6v3M141.1 142.6v3M29.6 138.8h-3M29.6 116h-3M29.6 93.1h-3M29.6 70.3h-3M29.6 47.4h-3" stroke="#666" stroke-width="0.7" fill="none"/>
<text x="101.7" y="167.2" font-size="9.7" text-anchor="middle" fill="#111">log2FC</text>
<text font-size="9.7" text-anchor="middle" fill="#111" transform="translate(8.6 92) rotate(-90)">-log10(Padj)</text>
<text x="98.2" y="26.6" font-size="9.45" text-anchor="middle" font-weight="bold" fill="#111">GSE142279: CRC vs Adjacent</text>
<rect x="29.6" y="120" width="23.9" height="22.6" fill="#fff" stroke="#777" stroke-width="0.6"/>
<text x="30.8" y="126.8" font-size="4.5" fill="#222">Padj&lt;0.01</text>
<circle cx="33" cy="132.9" r="0.7" fill="#29b6f6"/>
<circle cx="33" cy="138.3" r="0.7" fill="#f83a3a"/>
<text x="36.6" y="134.5" font-size="5.2" fill="#222">down</text>
<text x="36.6" y="139.9" font-size="5.2" fill="#222">up</text>
<path d="M205.3 119.6h0M206 103.1h0M208.9 121.2h0M209.5 104.2h0M216.2 98.3h0M219.3 117.2h0M219.8 98h0M220.7 108.8h0M220.8 113.7h0M222.9 105.3h0M222.9 114.1h0M223.3 120h0M223.7 101h0M224.3 120.1h0M224.8 117.9h0M224.9 99h0M226 123.4h0M227.1 83.6h0M227.4 76.5h0M227.4 89.8h0M227.6 123.3h0M227.6 109.5h0M227.9 125.3h0M228 105h0M228.5 123.7h0M229.2 86.7h0M229.6 110.3h0M229.7 119.5h0M229.8 122.6h0M229.9 102.6h0M230 53.7h0M230 118.1h0M230.4 123.3h0M230.6 125.8h0M230.8 110.9h0M231.2 124.6h0M231.3 109.2h0M231.4 98.3h0M231.5 106.8h0M231.5 123.8h0M231.7 120.8h0M231.8 103.3h0M232.1 87.4h0M232.4 123.1h0M232.8 119.4h0M232.8 127.5h0M233 120.6h0M233.6 63.9h0M233.7 125.2h0M233.8 126.9h0M234.1 39.5h0M234.2 122.5h0M234.2 108.5h0M234.3 127.4h0M234.3 129.8h0M234.6 123.2h0M234.6 120.3h0M234.6 102.4h0M235 109.3h0M235.1 111.9h0M235.3 123.6h0M235.8 119h0M235.9 126.3h0M236 119.7h0M236 114.5h0M236 107.9h0M236 122.3h0M236.2 122.7h0M236.3 120.9h0M236.6 115.3h0M236.7 116.7h0M236.7 125.7h0M236.7 117.5h0M237 131.3h0M237.2 129.5h0M237.2 66.8h0M237.2 109.8h0M237.3 123.4h0M237.4 117.2h0M237.4 124.1h0M237.4 120.2h0M237.4 131h0M237.4 126.3h0M237.7 111.4h0M237.7 107.5h0M237.8 122.7h0M237.9 121.7h0M238 83.6h0M238 132.3h0M238 110.7h0M238.1 122.8h0M238.1 120.5h0M238.1 109.5h0M238.1 118.3h0M238.2 110h0M238.2 107h0M238.2 131.2h0M238.3 128.4h0M238.3 117.6h0M238.3 106.5h0M238.3 116.5h0M238.3 129.7h0M238.4 105.9h0M238.5 121.9h0M238.5 126.9h0M238.6 125.5h0M238.9 132.8h0M239 127.5h0M239 116.6h0M239.1 120.8h0M239.2 128h0M239.3 118.3h0M239.3 132.9h0M239.3 119.4h0M239.4 92.4h0M239.5 113.9h0M239.6 104h0M239.7 123.4h0M239.7 124.2h0M239.7 129.7h0M239.9 122.3h0M239.9 116.3h0M240 132.1h0M240.2 109.5h0M240.2 133.1h0M240.3 105.6h0M240.3 124.3h0M240.3 114.2h0M240.4 120.5h0M240.5 118.7h0M240.5 130.9h0M240.5 116.7h0M240.6 126.4h0M240.6 111.7h0M240.8 111.3h0M240.8 102.3h0M240.8 127h0M240.9 124.1h0M241.1 123.4h0M241.1 131.1h0M241.2 117h0M241.2 116.2h0M241.3 133.6h0M241.3 120.9h0M241.4 114.3h0M241.5 120.1h0M241.5 126h0M241.6 112.8h0M241.7 130.6h0M241.7 129h0M241.7 104.6h0M241.8 117.5h0M241.8 133.3h0M241.8 119.8h0M241.8 130.9h0M241.8 125.6h0M241.8 123.4h0M241.8 133.9h0M241.9 129h0M241.9 134.5h0M242 127.6h0M242 119.2h0M242 108.2h0M242.3 103.8h0M242.3 132h0M242.5 115.4h0M242.5 116h0M242.5 112.6h0M242.5 124.6h0M242.6 130.3h0M242.6 120.8h0M242.6 111.6h0M242.7 128.5h0M242.7 122.2h0M242.7 121.8h0M242.7 126.4h0M242.7 100.6h0M242.7 125.4h0M242.7 123.8h0M242.8 127h0M242.8 118.9h0M242.8 116.5h0M242.9 109.4h0M242.9 131h0M242.9 120.6h0M242.9 132.9h0M242.9 124.4h0M243 109.9h0M243 113h0M243 83.6h0M243.1 114.6h0M243.3 116.2h0M243.3 112h0M243.3 129.9h0M243.3 134h0M243.3 134.5h0M243.5 132.3h0M243.6 129.2h0M243.7 126.6h0M243.7 126.5h0M243.8 117.8h0M243.8 128h0M243.8 116.5h0M243.9 124.2h0M243.9 132h0M244 109.1h0M244 112.3h0M244.1 133.2h0M244.1 127.2h0M244.2 130.8h0M244.4 121.3h0M244.5 125h0M244.5 135.5h0M244.5 123.9h0M244.5 120.2h0M244.6 133.7h0M244.6 116.2h0M244.7 133.3h0M244.7 126.1h0M244.7 124.1h0M244.7 129.1h0M244.8 127.1h0M244.8 113.4h0M244.8 114.1h0M244.9 130.3h0M244.9 133.6h0M244.9 131.6h0M245 131.6h0M245.1 125.7h0M245.1 118.1h0M245.2 120.9h0M245.2 112.5h0M245.2 127.9h0M245.3 119.1h0M245.3 109.4h0M245.3 135.2h0M245.4 123.4h0M245.4 116.9h0M245.5 114.6h0M245.5 135.5h0M245.6 127.5h0M245.7 129.7h0M245.7 131.6h0M245.7 118h0M245.8 123.1h0M245.8 133.7h0M245.9 131.4h0M245.9 135.7h0M245.9 133.3h0M245.9 125.8h0M245.9 116.4h0M246 122.7h0M246 121.1h0M246 130.2h0M246 111.4h0M246 119.6h0M246.1 128.4h0M246.3 124.4h0M246.4 122h0M246.4 118.9h0M246.4 109.7h0M246.5 114.7h0M246.5 126.3h0M246.5 125.6h0M246.6 132.1h0M246.6 133.8h0M246.7 126.1h0M246.7 135.5h0M246.7 129.1h0M246.7 127.2h0M246.9 119h0M246.9 135.2h0M246.9 120.1h0M247 131h0M247.1 124.8h0M247.2 132.6h0M247.2 113.4h0M247.3 117.6h0M247.3 104.3h0M247.3 130h0M247.3 108.5h0M247.3 128h0M247.4 113.8h0M247.4 120.6h0M247.4 123.8h0M247.5 136.7h0M247.5 130.4h0M247.7 133.7h0M247.7 118.1h0M247.7 107.8h0M247.8 114.8h0M247.8 102h0M247.8 129.5h0M247.9 123.2h0M248 132.8h0M248 135.2h0M248 125h0M248.1 136.4h0M248.1 89.8h0M248.1 121.7h0M248.2 131.4h0M248.2 124.8h0M248.2 123h0M248.3 112.5h0M248.3 120.2h0M248.3 131.7h0M248.3 118.9h0M248.4 135.4h0M248.4 117.2h0M248.4 128h0M248.4 126.5h0M248.4 127.6h0M248.4 123h0M248.5 129.7h0M248.5 128.2h0M248.5 118.7h0M248.6 137.4h0M248.6 125.3h0M248.6 114.5h0M248.7 113.8h0M248.7 132.8h0M248.7 110.7h0M248.8 121.8h0M249 126h0M249 115.5h0M249 135.4h0M249 131h0M249 131.8h0M249 134h0M249 137h0M249 108.8h0M249.1 120.6h0M249.1 118h0M249.1 135.5h0M249.2 129.5h0M249.2 124h0M249.3 117.3h0M249.3 127h0M249.3 123.9h0M249.4 110.8h0M249.5 136.9h0M249.5 127.1h0M249.6 133.8h0M249.6 128.3h0M249.7 135.7h0M249.7 116.6h0M249.7 120.7h0M249.7 122.5h0M249.8 137.4h0M249.8 130.6h0M249.8 121.7h0M249.9 123.6h0M249.9 129.4h0M249.9 120h0M249.9 115.9h0M249.9 135.1h0M250 117.7h0M250 112.4h0M250 124.7h0M250 118.3h0M250.1 132.2h0M250.1 125.3h0M250.1 115.1h0M250.2 133.5h0M250.3 131.1h0M250.3 126.7h0M250.3 117.4h0M250.4 129.1h0M250.4 132.1h0M250.5 130.6h0M250.5 132.5h0M250.5 134.3h0M250.5 135.2h0M250.5 110.9h0M250.7 120.6h0M250.7 137.1h0M250.7 124.7h0M250.7 116.2h0M250.8 121.8h0M250.9 126.4h0M250.9 122.2h0M250.9 130.2h0M250.9 136.1h0M251 116.5h0M251 127.4h0M251.1 137.8h0M251.1 118.8h0M251.2 119.6h0M251.2 123.9h0M251.2 110.6h0M251.2 128h0M251.2 125.8h0M251.3 113.9h0M251.3 122.1h0M251.3 128.4h0M251.3 113h0M251.4 106h0M251.4 126h0M251.4 114.7h0M251.5 135.6h0M251.5 125.2h0M251.6 127.2h0M251.6 119.5h0M251.7 135h0M251.8 131h0M251.8 136.4h0M251.8 133.1h0M251.9 132.1h0M251.9 120.3h0M251.9 117.7h0M251.9 129h0M252 115.8h0M252 137.6h0M252 123.9h0M252 121.8h0M252 111.9h0M252.1 124.7h0M252.1 119.1h0M252.1 130.1h0M252.1 133.8h0M252.2 126.3h0M252.3 126.9h0M252.4 134.2h0M252.5 136.9h0M252.5 105.7h0M252.5 90.2h0M252.5 93.8h0M252.5 135.6h0M252.5 128.5h0M252.5 119.6h0M252.5 131h0M252.5 134.8h0M252.6 121h0M252.7 119h0M252.7 131.7h0M252.7 117.9h0M252.8 124.4h0M252.8 122.4h0M252.8 130.4h0M252.9 109.3h0M252.9 125.2h0M253 121.3h0M253 132.6h0M253.1 129.2h0M253.1 123.5h0M253.1 107.8h0M253.1 116.7h0M253.1 137.6h0M253.2 112.6h0M253.3 125.6h0M253.3 136.2h0M253.3 122.6h0M253.4 130.6h0M253.4 121.4h0M253.5 115.7h0M253.5 129.4h0M253.5 121.1h0M253.6 109.3h0M253.6 134.5h0M253.6 134.3h0M253.7 136.7h0M253.7 120.1h0M253.8 126.6h0M253.8 127.7h0M253.8 123.7h0M253.8 118.3h0M253.8 131.7h0M253.8 137.4h0M253.8 131.1h0M253.9 128h0M253.9 111.5h0M254 116.8h0M254 118h0M254 114.3h0M254.1 124.4h0M254.1 115.3h0M254.1 133.1h0M254.2 137.1h0M254.2 120.1h0M254.2 115.5h0M254.3 116.4h0M254.4 122h0M254.4 125.1h0M254.4 118.8h0M254.5 112h0M254.6 134.7h0M254.6 113.3h0M254.6 136.3h0M254.6 126.9h0M254.6 128.9h0M254.6 120.6h0M254.6 124.6h0M254.6 126.2h0M254.7 128.2h0M254.7 123.1h0M254.7 137.3h0M254.7 131.9h0M254.8 130.2h0M254.8 122.2h0M254.9 132.8h0M255 133.8h0M255 131h0M255.1 115.2h0M255.1 127.8h0M255.1 112.6h0M255.2 121.8h0M255.2 137.5h0M255.2 124.6h0M255.2 135.4h0M255.2 133.3h0M255.2 134.8h0M255.2 132.2h0M255.2 127.2h0M255.2 126.2h0M255.3 134.2h0M255.3 137h0M255.3 114.1h0M255.3 130.8h0M255.4 130h0M255.4 117.2h0M255.4 121.1h0M255.4 129h0" stroke="#29b6f6" stroke-width="1.85" stroke-linecap="round" fill="none"/>
<path d="M284.4 137.5h0M284.4 126.6h0M284.4 132.6h0M284.5 136.1h0M284.5 130.3h0M284.5 133.6h0M284.5 136.8h0M284.5 129h0M284.5 128h0M284.5 131.6h0M284.5 124.5h0M284.5 125.6h0M284.5 135.1h0M284.5 133.2h0M284.6 111.9h0M284.6 124.6h0M284.6 120.9h0M284.7 116.1h0M284.8 135.7h0M284.8 131.2h0M284.8 125.8h0M284.8 121.1h0M284.8 137.2h0M284.9 122.7h0M284.9 137.6h0M284.9 126.1h0M285 111.2h0M285 114.5h0M285 119.1h0M285 130.3h0M285 128.6h0M285.1 119.8h0M285.1 135.4h0M285.1 123.6h0M285.2 127.4h0M285.2 132h0M285.2 118h0M285.2 129.1h0M285.2 133.8h0M285.6 118.1h0M285.7 122.4h0M285.7 126.2h0M285.7 128.3h0M285.7 131.1h0M285.8 128.8h0M285.8 123.1h0M285.8 124.3h0M285.9 132.8h0M286 137.6h0M286 127.7h0M286.1 133.5h0M286.1 114.9h0M286.1 110.3h0M286.1 119.7h0M286.3 136h0M286.3 121h0M286.3 129.9h0M286.3 135h0M286.3 131.6h0M286.4 125.2h0M286.4 137.2h0M286.4 121.5h0M286.5 129.6h0M286.5 126.9h0M286.5 137.1h0M286.5 130.3h0M286.6 122.7h0M286.6 137.7h0M286.6 126.5h0M286.6 131.7h0M286.7 123.5h0M286.8 133.5h0M287 130.8h0M287 135.2h0M287.1 128h0M287.1 133.7h0M287.1 135.7h0M287.2 116.9h0M287.3 125.8h0M287.3 85h0M287.3 89.7h0M287.4 132.6h0M287.5 126.3h0M287.6 136.1h0M287.6 133.7h0M287.7 121.6h0M287.8 129.6h0M287.8 123.9h0M287.9 120.8h0M287.9 125.8h0M287.9 130.6h0M287.9 131.6h0M288 131.1h0M288.1 122.1h0M288.1 127.8h0M288.2 135.2h0M288.2 136.5h0M288.3 137.8h0M288.3 127.5h0M288.5 125.4h0M288.6 121.3h0M288.6 136.5h0M288.7 134.8h0M288.7 136.3h0M288.7 102.2h0M288.8 129.7h0M288.8 116.2h0M288.8 126.3h0M288.8 106.3h0M288.9 117.8h0M288.9 123.2h0M288.9 132.3h0M288.9 128.2h0M289 137.4h0M289 109.9h0M289 122.1h0M289 132.7h0M289.1 129h0M289.2 130.7h0M289.2 116.5h0M289.2 133.8h0M289.3 127.1h0M289.3 134h0M289.5 122h0M289.6 109.7h0M289.6 134.8h0M289.6 132.2h0M289.7 131.5h0M289.7 123.9h0M289.8 122.5h0M289.8 126.6h0M289.9 129.9h0M290 137.7h0M290.1 137.3h0M290.1 132.6h0M290.1 136h0M290.2 124.7h0M290.2 119.3h0M290.2 128.3h0M290.2 82.1h0M290.3 128.2h0M290.3 132.8h0M290.3 121h0M290.4 127.6h0M290.4 131.8h0M290.4 129.6h0M290.5 124.4h0M290.5 123.7h0M290.6 122.1h0M290.6 99.4h0M290.6 114.3h0M290.6 135.3h0M290.6 133.9h0M290.7 129.9h0M290.8 130.7h0M290.8 118.8h0M290.8 125.3h0M290.9 135.9h0M290.9 121.3h0M291.1 137h0M291.2 117.1h0M291.3 128.8h0M291.3 119.4h0M291.3 136.4h0M291.3 135.5h0M291.4 123.9h0M291.5 123h0M291.5 127.1h0M291.5 131.6h0M291.7 133.5h0M291.8 120.9h0M291.8 115.6h0M291.9 134.6h0M292 129.9h0M292 118.1h0M292.1 128.7h0M292.2 112.1h0M292.2 136.1h0M292.3 122.7h0M292.3 136.6h0M292.3 129.5h0M292.4 130.3h0M292.4 133.7h0M292.6 124h0M292.6 118.7h0M292.6 135.1h0M292.7 113.2h0M292.7 127h0M292.8 118h0M293.1 136.1h0M293.2 133.9h0M293.3 130.5h0M293.3 132.5h0M293.4 131.2h0M293.5 126.4h0M293.5 128.2h0M293.5 127.7h0M293.6 132.7h0M293.6 117.3h0M293.9 115.6h0M294.3 122h0M294.3 134.1h0M294.4 126.5h0M294.6 112.8h0M294.6 135.5h0M294.6 122.9h0M294.7 133h0M294.8 127.5h0M294.8 115.9h0M294.9 107.5h0M294.9 119.2h0M295.1 130.7h0M295.2 133.1h0M295.3 131.9h0M295.3 98.2h0M295.6 111h0M295.6 115.7h0M295.8 126.2h0M295.8 130.3h0M296 132.1h0M296.1 134.7h0M296.8 131h0M297 111.1h0M297.1 120.6h0M297.2 127.6h0M297.7 129.7h0M297.7 123.9h0M298.3 127.6h0M298.3 132h0M299 131.6h0M299.2 124.8h0M299.4 126.8h0M299.7 132.3h0M299.8 123.6h0M301.1 83.3h0M301.5 121.3h0M304 88.8h0M304 96.8h0M306.2 101.4h0M306.9 118h0M307.7 73.6h0M309.8 128.1h0M310.6 118h0M311.3 72.5h0M313.5 118h0M314.5 106.8h0M314.9 98.2h0M316.4 130.2h0M316.4 136.7h0M319.3 93.7h0M319.3 123.1h0M323.6 130.2h0M324.3 107.3h0M325.1 84.7h0M325.8 126.2h0M328.7 78.1h0M333.1 116.3h0" stroke="#f83a3a" stroke-width="1.85" stroke-linecap="round" fill="none"/>
<path d="M251.6 138.4h0M252.1 138.2h0M252.3 138.4h0M252.8 138.3h0M253 138.4h0M253.4 138h0M253.5 138.7h0M254.2 138.1h0M254.5 138.4h0M254.6 139.3h0M255.1 139.2h0M255.3 138.3h0M255.4 138.4h0M255.4 127.9h0M255.4 134.7h0M255.4 124.9h0M255.4 130.1h0M255.5 130.7h0M255.5 129.2h0M255.5 131.6h0M255.5 128h0M255.5 124.9h0M255.6 134.2h0M255.7 123.3h0M255.7 137.6h0M255.7 137h0M255.8 132.8h0M255.8 133.3h0M255.8 138.9h0M255.8 123.6h0M255.8 136.5h0M255.9 126.2h0M255.9 132.1h0M255.9 139.3h0M256 135.8h0M256.1 126.6h0M256.1 132.9h0M256.2 129h0M256.2 138.8h0M256.3 138.2h0M256.3 131.4h0M256.4 126.9h0M256.4 134.7h0M256.4 134.3h0M256.4 133.4h0M256.5 139.3h0M256.5 126.2h0M256.5 130.6h0M256.5 128.1h0M256.6 137.2h0M256.7 129.6h0M256.7 135.6h0M256.7 117.7h0M256.7 113.7h0M256.8 136.1h0M256.8 132.1h0M256.9 137.2h0M257 134.8h0M257 128.3h0M257 132.9h0M257.1 136h0M257.1 138.4h0M257.1 133.7h0M257.2 130.8h0M257.2 112.1h0M257.2 132.1h0M257.2 140h0M257.3 139.3h0M257.3 119.4h0M257.3 136.3h0M257.3 134h0M257.4 130.9h0M257.4 128.8h0M257.4 125.9h0M257.5 125.6h0M257.5 137.7h0M257.5 126.7h0M257.6 124.1h0M257.6 127.3h0M257.6 130h0M257.7 128.3h0M257.7 124.9h0M257.7 129.3h0M257.8 139.4h0M257.8 133.9h0M257.9 123.6h0M257.9 129.5h0M258 137.6h0M258 116.4h0M258.1 127.2h0M258.1 135.7h0M258.1 140.1h0M258.1 134.3h0M258.2 136.3h0M258.2 132.2h0M258.2 118.2h0M258.2 132.7h0M258.2 126.5h0M258.2 131.4h0M258.3 138.2h0M258.3 130.2h0M258.3 134.9h0M258.3 139.1h0M258.4 134.4h0M258.5 131.7h0M258.5 128.4h0M258.5 130.7h0M258.5 126.3h0M258.6 127.8h0M258.6 124h0M258.7 131.3h0M258.7 136.1h0M258.8 115.4h0M258.8 133.8h0M258.8 138.3h0M258.8 129.8h0M258.9 139.8h0M258.9 137h0M258.9 132.6h0M259 121.8h0M259 138.9h0M259 134.8h0M259 122h0M259.1 139.9h0M259.1 136.7h0M259.1 126.5h0M259.1 129.7h0M259.2 131.9h0M259.2 128.4h0M259.4 134.2h0M259.5 126.9h0M259.5 130.8h0M259.5 135.1h0M259.5 137.3h0M259.7 139h0M259.7 123.7h0M259.7 139.6h0M259.7 136.4h0M259.7 133.3h0M259.7 136h0M259.8 140.4h0M259.8 138h0M259.8 132.9h0M259.8 126.2h0M259.8 131.2h0M259.9 133.5h0M259.9 125.5h0M260.1 137.7h0M260.1 136.5h0M260.1 129.2h0M260.1 134.6h0M260.1 131.9h0M260.2 125.7h0M260.2 137h0M260.2 124.7h0M260.2 139.2h0M260.2 135.5h0M260.2 138.8h0M260.3 140.3h0M260.4 133h0M260.5 131.5h0M260.5 128.1h0M260.5 123.5h0M260.5 130.1h0M260.5 134.8h0M260.6 130.2h0M260.6 133.3h0M260.7 131.1h0M260.7 137.9h0M260.7 139.1h0M260.8 130.9h0M260.8 134.7h0M260.8 127.8h0M260.8 131.9h0M260.9 132.5h0M261 136h0M261.1 140.2h0M261.1 137h0M261.1 136.5h0M261.2 130h0M261.2 134.2h0M261.2 139.6h0M261.3 128.5h0M261.3 140.7h0M261.3 129.2h0M261.4 128h0M261.4 127.8h0M261.4 131.9h0M261.5 132.6h0M261.5 140.5h0M261.6 128.9h0M261.6 139.6h0M261.6 131.3h0M261.7 137.4h0M261.8 140.8h0M261.9 136.4h0M262 133.9h0M262 133.3h0M262 135.4h0M262 137.7h0M262 138.9h0M262.1 130.8h0M262.1 136h0M262.1 130.5h0M262.2 131h0M262.2 134.3h0M262.2 140.1h0M262.3 140.6h0M262.4 129.8h0M262.4 138.2h0M262.4 138.6h0M262.5 135.5h0M262.6 139.6h0M262.6 133.6h0M262.7 135.2h0M262.7 132.1h0M262.7 126.9h0M262.8 136.7h0M262.8 127.9h0M262.8 132.5h0M262.8 137.3h0M262.9 139.4h0M262.9 130.6h0M262.9 132.3h0M262.9 135.3h0M263.1 131h0M263.1 137.8h0M263.1 136.8h0M263.2 133h0M263.2 135.4h0M263.3 133.7h0M263.3 139h0M263.3 137.6h0M263.3 128.4h0M263.3 134.1h0M263.4 139.9h0M263.4 126.7h0M263.5 140.7h0M263.6 128.9h0M263.6 140.8h0M263.7 136.1h0M263.7 137.3h0M263.7 136.3h0M263.7 134.4h0M263.7 131.4h0M263.8 139.8h0M264.1 132.4h0M264.1 132.4h0M264.2 130.2h0M264.2 138.1h0M264.3 140.5h0M264.3 135h0M264.3 138.7h0M264.3 133.8h0M264.4 130.5h0M264.4 131.7h0M264.4 139.3h0M264.5 140.9h0M264.5 135.8h0M264.5 132.8h0M264.6 128.8h0M264.7 135h0M264.7 134.1h0M264.7 137h0M264.7 140.5h0M264.7 139h0M264.8 131.6h0M264.8 137.7h0M264.9 136.6h0M265 133.8h0M265.2 130.3h0M265.3 133.8h0M265.3 134.6h0M265.3 136.1h0M265.4 139h0M265.5 137.4h0M265.6 139.8h0M265.6 134.7h0M265.6 138.3h0M265.7 132.9h0M265.7 136.7h0M265.7 140.9h0M265.8 140.4h0M265.9 139.4h0M266 134.6h0M266 132.4h0M266 138.5h0M266.1 136.7h0M266.2 140.6h0M266.4 139.9h0M266.4 137.5h0M266.5 137.7h0M266.5 134.6h0M266.6 135.9h0M266.6 139.1h0M266.7 140h0M266.9 135.2h0M267 134.6h0M267 137.9h0M267 136.9h0M267.1 140.8h0M267.1 137.5h0M267.3 136.1h0M267.3 139.4h0M267.4 140.3h0M267.5 136.1h0M267.5 141.3h0M267.5 137.8h0M267.6 136.9h0M267.6 138.6h0M267.8 139.7h0M268 136.8h0M268.2 141.1h0M268.2 137.4h0M268.3 138.8h0M268.4 139.3h0M268.6 138.1h0M268.6 141.4h0M268.7 140.3h0M269 139.1h0M269.2 139.7h0M269.3 141h0M269.4 140.5h0M269.6 141.4h0M269.7 140.9h0M269.7 141.4h0M270.3 140.5h0M270.5 140.1h0M270.8 140.8h0M270.9 139.7h0M270.9 138.9h0M271 141.4h0M271.2 139.7h0M271.2 140.2h0M271.2 141h0M271.3 138.2h0M271.3 138.6h0M271.7 137.5h0M271.9 139.4h0M272.2 136.7h0M272.2 137h0M272.3 138.7h0M272.5 140.1h0M272.5 135.2h0M272.5 141.1h0M272.6 138h0M272.6 135.7h0M272.7 134.6h0M272.7 138.1h0M272.8 137.6h0M273 140h0M273 135h0M273.1 136.4h0M273.2 139.6h0M273.2 138.5h0M273.3 141.3h0M273.3 133.4h0M273.4 139.2h0M273.4 134.5h0M273.5 136h0M273.5 136.2h0M273.6 137.3h0M273.6 138.9h0M273.8 133.6h0M273.8 131.6h0M273.9 135.3h0M274 141.1h0M274 138h0M274.1 140.1h0M274.1 132.3h0M274.2 139.3h0M274.2 136.8h0M274.2 134.7h0M274.2 132.9h0M274.3 134.5h0M274.5 138.2h0M274.5 137.5h0M274.5 140.7h0M274.6 140h0M274.7 135.4h0M274.7 133.7h0M274.7 138.9h0M274.8 130.1h0M274.9 131.3h0M275 130.6h0M275.1 130.9h0M275.2 134.3h0M275.2 138.2h0M275.3 137.5h0M275.3 138.5h0M275.3 128.3h0M275.3 141.1h0M275.3 140.2h0M275.4 135.9h0M275.4 139.3h0M275.4 136.7h0M275.4 135h0M275.4 133.3h0M275.5 132.3h0M275.6 132.9h0M275.8 131.8h0M275.8 133.1h0M275.9 131.5h0M275.9 137.9h0M275.9 136.6h0M276 128.5h0M276 134.3h0M276 140.4h0M276 129.4h0M276.1 139.8h0M276.1 137.6h0M276.1 130.7h0M276.2 138.8h0M276.2 135.2h0M276.2 135.5h0M276.3 140.8h0M276.6 128.4h0M276.6 132h0M276.6 129.3h0M276.6 129.7h0M276.6 131.1h0M276.7 133.6h0M276.7 138.3h0M276.8 137.3h0M276.8 136h0M276.8 130.7h0M276.8 139.9h0M276.8 139.7h0M276.8 135.2h0M276.9 138.8h0M276.9 136.5h0M276.9 134.6h0M277.1 132.6h0M277.1 140.9h0M277.1 140.1h0M277.2 136.5h0M277.3 140.8h0M277.3 131.6h0M277.3 132.8h0M277.4 137.4h0M277.4 126.7h0M277.4 129h0M277.4 138.6h0M277.5 139.5h0M277.5 135.4h0M277.5 131.4h0M277.5 134.1h0M277.5 137.8h0M277.6 126.1h0M277.6 135.4h0M277.7 130.9h0M277.7 130.1h0M277.7 133.8h0M277.8 128.2h0M278 139.8h0M278 138.3h0M278 131.9h0M278.1 129.4h0M278.1 135.7h0M278.1 133.2h0M278.2 137.5h0M278.2 129.8h0M278.3 140.6h0M278.4 138.6h0M278.5 131.1h0M278.5 127.2h0M278.5 135.3h0M278.6 140.4h0M278.6 132.6h0M278.6 136.2h0M278.6 125.3h0M278.6 130.8h0M278.6 134h0M278.7 127h0M278.7 130.4h0M278.8 135.7h0M278.8 140.3h0M278.8 136.4h0M278.8 138.2h0M278.9 127.4h0M279 128.4h0M279 135.3h0M279 128.8h0M279 131.9h0M279 139.4h0M279.1 132.8h0M279.1 140.6h0M279.1 131.4h0M279.2 138.4h0M279.3 133.3h0M279.3 137.2h0M279.3 134.5h0M279.3 126.1h0M279.4 140.2h0M279.4 134h0M279.4 130.8h0M279.5 139.2h0M279.5 128.8h0M279.5 132.2h0M279.6 135.7h0M279.8 136.8h0M279.8 138h0M279.8 137.4h0M279.8 132.6h0M280 133.3h0M280 134.8h0M280 122.7h0M280 131.4h0M280 138.5h0M280.1 129.8h0M280.1 128.2h0M280.1 122.6h0M280.2 140.1h0M280.4 131.6h0M280.4 134.1h0M280.4 132.1h0M280.4 124.1h0M280.5 136.3h0M280.6 137.9h0M280.7 130.3h0M280.7 130.1h0M280.7 122.7h0M280.7 137h0M280.7 128.1h0M280.7 135.8h0M280.7 128.7h0M280.7 126.8h0M280.8 138.8h0M280.8 135.3h0M280.8 133.1h0M280.8 139.1h0M280.8 114.4h0M280.9 133.5h0M280.9 134.6h0M280.9 128.3h0M281 126h0M281 138.9h0M281.1 131.3h0M281.2 132h0M281.2 132.8h0M281.3 126.7h0M281.3 140.2h0M281.3 135.9h0M281.3 139.6h0M281.3 130h0M281.3 136.5h0M281.4 130.2h0M281.4 138.3h0M281.4 133.3h0M281.4 134.7h0M281.5 137.3h0M281.6 129.3h0M281.7 127.5h0M281.7 137.6h0M281.7 132.2h0M281.8 133.5h0M282 140h0M282 130.7h0M282 126.4h0M282 128.8h0M282 128.5h0M282 138.5h0M282.1 139.7h0M282.1 135.4h0M282.1 134.9h0M282.2 133.9h0M282.3 130.9h0M282.3 136.5h0M282.3 137.8h0M282.4 133h0M282.4 130.1h0M282.5 139.9h0M282.5 134.2h0M282.5 133h0M282.5 136.7h0M282.6 130.6h0M282.6 124.5h0M282.6 135.5h0M282.7 138.8h0M282.7 138.3h0M282.8 128.3h0M282.9 125.5h0M282.9 139.6h0M282.9 135.3h0M283 127.5h0M283 133.2h0M283 132h0M283 131.3h0M283.1 136.9h0M283.1 128.8h0M283.1 123.2h0M283.1 139.1h0M283.2 134.3h0M283.2 125.5h0M283.2 131.4h0M283.2 129.7h0M283.2 132.5h0M283.2 126.2h0M283.3 124h0M283.4 132.1h0M283.4 116.6h0M283.5 135.9h0M283.5 128.8h0M283.6 127.6h0M283.6 126.9h0M283.6 138.8h0M283.6 136.7h0M283.7 138h0M283.7 130.7h0M283.7 136.9h0M283.7 122.1h0M283.8 133.3h0M283.9 135.1h0M283.9 128h0M283.9 135.2h0M283.9 133.9h0M283.9 129.9h0M283.9 138.5h0M284 131.5h0M284 126.8h0M284 136.6h0M284.2 137.8h0M284.2 135.6h0M284.2 139.5h0M284.3 127.8h0M284.3 130.4h0M284.3 129.1h0M284.3 137.4h0M284.3 133.7h0M284.3 124.6h0M284.3 132.2h0M284.4 132.8h0M284.4 128.6h0M284.6 139.3h0M284.8 138h0M285.1 138.7h0M285.5 139.2h0M285.6 138.1h0M285.8 138.6h0M286.5 138.6h0M286.6 138.3h0M287 138h0M287.1 138.7h0M287.8 138h0M289.1 138h0" stroke="#000" stroke-width="1.2" stroke-linecap="round" fill="none"/>
<rect x="200.7" y="35.7" width="139" height="109.9" fill="none" stroke="#888" stroke-width="0.7"/>
<text x="232.1" y="157.7" font-size="9.6" text-anchor="middle" fill="#111">-5</text>
<text x="269.9" y="157.7" font-size="9.6" text-anchor="middle" fill="#111">0</text>
<text x="306.2" y="157.7" font-size="9.6" text-anchor="middle" fill="#111">5</text>
<text font-size="9.6" text-anchor="middle" fill="#111" transform="translate(196.3 141.4) rotate(-90)">0</text>
<text font-size="9.6" text-anchor="middle" fill="#111" transform="translate(196.3 124.1) rotate(-90)">10</text>
<text font-size="9.6" text-anchor="middle" fill="#111" transform="translate(196.3 106.8) rotate(-90)">20</text>
<text font-size="9.6" text-anchor="middle" fill="#111" transform="translate(196.3 89.5) rotate(-90)">30</text>
<text font-size="9.6" text-anchor="middle" fill="#111" transform="translate(196.3 72.2) rotate(-90)">40</text>
<text font-size="9.6" text-anchor="middle" fill="#111" transform="translate(196.3 54.9) rotate(-90)">50</text>
<text font-size="9.6" text-anchor="middle" fill="#111" transform="translate(196.3 37.6) rotate(-90)">60</text>
<path d="M233.6 145.6v3M269.9 145.6v3M306.2 145.6v3M200.7 141.4h-3M200.7 124.1h-3M200.7 106.8h-3M200.7 89.5h-3M200.7 72.2h-3M200.7 54.9h-3M200.7 37.6h-3" stroke="#666" stroke-width="0.7" fill="none"/>
<text x="269.2" y="173.8" font-size="9.7" text-anchor="middle" fill="#111">log2FC</text>
<text font-size="9.7" text-anchor="middle" fill="#111" transform="translate(181.6 86.4) rotate(-90)">-log10(Padj)</text>
<text x="268.4" y="26.6" font-size="9.45" text-anchor="middle" font-weight="bold" fill="#111">GSE143939: CRC vs Adjacent</text>
<rect x="200.7" y="122.3" width="24.8" height="23.3" fill="#fff" stroke="#777" stroke-width="0.6"/>
<text x="201.9" y="129.3" font-size="4.5" fill="#222">Padj&lt;0.01</text>
<circle cx="204.1" cy="135.6" r="0.7" fill="#29b6f6"/>
<circle cx="204.1" cy="141.2" r="0.7" fill="#f83a3a"/>
<text x="207.7" y="137.2" font-size="5.2" fill="#222">down</text>
<text x="207.7" y="142.8" font-size="5.2" fill="#222">up</text>
<path d="M377.2 107.6h0M381.1 114.9h0M385 118.4h0M388.1 105.1h0M388.8 81.5h0M389.1 103.8h0M392.1 108.3h0M392.2 111.2h0M393 107.7h0M393.2 109.9h0M393.5 113h0M393.9 105.3h0M395.4 104.5h0M395.6 93.4h0M395.9 106.2h0M396.2 94.1h0M396.5 97.4h0M396.8 90.9h0M398.2 96.9h0M399.2 113.1h0M400.9 88.5h0M401.4 118.9h0M401.6 118.2h0M401.6 110h0M402.1 103.8h0M402.3 97.3h0M402.3 117.2h0M402.3 86.5h0M402.4 119.2h0M402.9 116.8h0M403.3 115.6h0M403.6 101.4h0M403.7 110.5h0M403.8 103.3h0M403.9 106.2h0M404 123h0M404.1 120.7h0M404.3 99.3h0M404.6 117.4h0M404.7 116.5h0M404.7 116.1h0M404.8 113.4h0M405.2 117.3h0M405.3 71h0M405.6 110.2h0M405.7 120.3h0M405.8 101.1h0M405.8 97.8h0M405.8 118.4h0M405.9 109.2h0M405.9 126.3h0M406 112.2h0M406.2 125.5h0M406.2 110.2h0M406.2 121.1h0M406.2 113.1h0M406.2 119.8h0M406.4 121.8h0M406.5 101.9h0M406.8 112.3h0M407 126.3h0M407 127.1h0M407.1 125.7h0M407.2 118.6h0M407.5 113.2h0M407.6 120.9h0M407.6 106.2h0M407.7 98.5h0M407.8 116.7h0M407.8 117.5h0M407.9 88.5h0M408 124.5h0M408 110.7h0M408 126.8h0M408 117.9h0M408.2 128.6h0M408.4 77h0M408.5 121.3h0M408.5 113.8h0M408.6 123.3h0M408.6 94.5h0M408.7 109h0M408.8 125.8h0M408.8 124.3h0M408.9 127.2h0M408.9 126.6h0M409 123h0M409 108h0M409.1 111.4h0M409.1 121.7h0M409.1 115.2h0M409.2 123.9h0M409.2 102.3h0M409.3 120.5h0M409.3 109.7h0M409.4 116.2h0M409.4 112.7h0M409.6 129.2h0M409.6 114.2h0M409.8 118.7h0M409.8 128h0M409.9 116.5h0M409.9 126.9h0M410.2 127h0M410.2 110.3h0M410.2 111.6h0M410.4 129.7h0M410.4 93.3h0M410.5 102.8h0M410.5 113.2h0M410.5 122.5h0M410.5 126.6h0M410.6 120.5h0M410.6 117.6h0M410.6 116.1h0M410.7 124.6h0M410.7 123.1h0M410.8 116.6h0M410.8 125.3h0M410.9 124.7h0M411 100.5h0M411 120.3h0M411.1 130h0M411.2 115.2h0M411.3 119.6h0M411.3 83.9h0M411.4 99.7h0M411.4 118.7h0M411.4 111h0M411.5 112.8h0M411.5 123.7h0M411.5 126.9h0M411.6 128.4h0M411.6 118.1h0M411.6 116.5h0M411.7 126.4h0M411.8 125.4h0M411.8 108.5h0M411.8 129.4h0M411.9 125h0M412 120.5h0M412 127h0M412 109.2h0M412.2 106.2h0M412.2 120.1h0M412.3 123.6h0M412.3 128.3h0M412.3 117.3h0M412.3 116.5h0M412.4 122.4h0M412.4 95.5h0M412.4 124.7h0M412.4 130.8h0M412.5 111.3h0M412.5 118.5h0M412.6 114.2h0M412.6 126.1h0M412.6 129.9h0M412.7 98.2h0M412.7 129.2h0M412.8 107.9h0M412.8 127.6h0M412.8 116.9h0M412.8 124.1h0M412.9 107h0M412.9 125.3h0M413 122.4h0M413 128.9h0M413 129.7h0M413 122h0M413.2 115.3h0M413.2 128.4h0M413.2 126.1h0M413.3 119h0M413.3 131h0M413.3 112.4h0M413.4 131.7h0M413.5 109.6h0M413.5 119.4h0M413.6 123.7h0M413.7 113.9h0M413.7 115.5h0M413.7 102.4h0M413.7 126.3h0M413.8 116.1h0M413.8 110.8h0M413.8 87.8h0M413.8 117.3h0M413.9 127.2h0M413.9 101.8h0M414 125.5h0M414 121.1h0M414.1 123.8h0M414.3 118.4h0M414.4 129.2h0M414.4 131h0M414.4 124.3h0M414.4 128.1h0M414.5 104h0M414.5 115h0M414.5 130.2h0M414.5 121.7h0M414.6 122.8h0M414.6 131.8h0M414.6 111.9h0M414.7 130.5h0M414.7 120.5h0M414.7 128h0M414.7 112.8h0M414.8 117.7h0M414.9 131.5h0M414.9 119.8h0M414.9 127.6h0M414.9 108.6h0M415 129.6h0M415.2 118.5h0M415.2 125.8h0M415.2 121.2h0M415.2 123h0M415.3 132.5h0M415.4 123.6h0M415.5 124.4h0M415.5 115.4h0M415.5 113.8h0M415.6 131.9h0M415.6 126.5h0M415.7 130.2h0M415.7 128.6h0M415.7 125.4h0M415.8 123.8h0M415.8 126h0M415.8 117h0M415.8 132.6h0M415.9 122.2h0M415.9 131h0M415.9 129.2h0M415.9 124.2h0M415.9 115.1h0M415.9 114.4h0M416 127.1h0" stroke="#29b6f6" stroke-width="1.85" stroke-linecap="round" fill="none"/>
<path d="M454.8 93.8h0M454.9 125.8h0M455 119.2h0M455 121.7h0M455 118.7h0M455.1 114.7h0M455.1 120.8h0M455.2 132.6h0M455.3 124.1h0M455.3 129.3h0M455.3 103.9h0M455.4 112.2h0M455.4 127.6h0M455.4 123h0M455.4 127.9h0M455.4 118.1h0M455.4 116.5h0M455.4 126.1h0M455.5 131.1h0M455.5 106.7h0M455.5 129.8h0M455.5 115.6h0M455.5 132h0M455.5 90.7h0M455.6 99.3h0M455.6 113.1h0M455.8 108.7h0M455.8 69h0M455.8 119.1h0M455.8 103.1h0M455.8 117.8h0M455.9 115.7h0M455.9 109.6h0M455.9 127.3h0M456 117h0M456 122.7h0M456 121.2h0M456 124h0M456.1 132.6h0M456.1 123.7h0M456.2 125.7h0M456.2 131.3h0M456.2 128h0M456.2 112h0M456.3 105.6h0M456.3 120.2h0M456.3 115.2h0M456.3 107.1h0M456.4 132h0M456.4 126.2h0M456.4 129h0M456.5 130.3h0M456.5 117.1h0M456.5 126.3h0M456.6 120.9h0M456.6 130.7h0M456.6 119.4h0M456.7 125.8h0M456.7 114.7h0M456.7 101.9h0M456.7 130.1h0M456.8 104.1h0M456.8 123.1h0M456.8 110.3h0M456.8 112.5h0M456.9 122.9h0M456.9 118.1h0M457 94.2h0M457 112.7h0M457 111.2h0M457 129.1h0M457.1 106.6h0M457.1 103.5h0M457.1 116.4h0M457.1 114h0M457.2 131.9h0M457.2 128.7h0M457.2 127.2h0M457.2 107h0M457.2 108.2h0M457.2 109h0M457.4 124.5h0M457.4 118.3h0M457.4 121.4h0M457.4 122.4h0M457.4 109h0M457.5 114.8h0M457.5 106.1h0M457.5 98.4h0M457.5 103.2h0M457.5 125.1h0M457.6 124.7h0M457.7 118.3h0M457.7 118h0M457.7 131.4h0M457.7 131.7h0M457.8 130.2h0M457.8 101.9h0M457.8 113.4h0M457.9 87.1h0M457.9 115.4h0M458.1 95.8h0M458.1 129.4h0M458.2 123.2h0M458.2 120.5h0M458.2 71.7h0M458.2 127.1h0M458.2 117h0M458.3 128.3h0M458.3 97.1h0M458.3 121.5h0M458.4 125.9h0M458.4 121.6h0M458.5 129.5h0M458.5 126.6h0M458.5 130.5h0M458.6 125.3h0M458.6 106h0M458.8 122.9h0M458.8 119.3h0M458.8 116.2h0M458.9 131.3h0M458.9 108.3h0M458.9 123.9h0M459 128h0M459 124.5h0M459 114.6h0M459 110.7h0M459.1 111h0M459.1 120.2h0M459.2 117.8h0M459.2 72.3h0M459.2 108.9h0M459.3 127.6h0M459.3 113.9h0M459.4 120.6h0M459.4 99.6h0M459.4 124.2h0M459.4 119h0M459.5 125.4h0M459.5 123.3h0M459.6 126h0M459.6 111h0M459.6 127h0M459.6 96.6h0M459.7 113.4h0M459.7 117.4h0M459.7 129.6h0M459.7 91.8h0M459.8 128.4h0M459.8 110.6h0M459.8 121.3h0M459.9 107h0M459.9 112.5h0M460 130.4h0M460 105.4h0M460.1 123h0M460.3 119.7h0M460.3 118.8h0M460.3 124.7h0M460.3 116.8h0M460.4 129.3h0M460.5 120h0M460.5 112.8h0M460.6 123.8h0M460.6 115.3h0M460.7 121.2h0M460.7 99.8h0M460.9 105.9h0M460.9 126.3h0M460.9 112.2h0M460.9 107.6h0M461.2 128.1h0M461.2 104.3h0M461.3 127.6h0M461.3 115.5h0M461.4 109.9h0M461.5 129.2h0M461.5 116.8h0M461.5 121.3h0M461.6 96.4h0M461.6 83.7h0M461.7 121h0M461.7 78.8h0M461.7 128.5h0M461.9 111.3h0M461.9 109.2h0M462.1 126.7h0M462.3 126.1h0M462.3 117.6h0M462.3 124.6h0M462.5 89.3h0M462.5 111.7h0M462.7 110.7h0M462.8 121h0M462.8 125.7h0M462.8 123.8h0M462.8 128.3h0M462.8 122.1h0M462.8 118.7h0M462.9 109.2h0M462.9 114.2h0M462.9 120.1h0M463 127.6h0M463 94.4h0M463.2 102.2h0M463.3 124.3h0M463.3 119.2h0M463.4 104.8h0M463.5 90.6h0M463.5 113.8h0M463.5 95.7h0M463.7 110h0M463.7 109.5h0M463.7 115.7h0M463.9 106.4h0M464 107.7h0M464 114.7h0M464 121.4h0M464 103.1h0M464.2 108.3h0M464.2 86.2h0M464.2 116.6h0M464.3 127.2h0M464.3 103.6h0M464.4 115.5h0M464.5 126.8h0M464.7 123.1h0M464.8 114h0M464.9 115h0M465 107.5h0M465.1 111.2h0M465.1 106.8h0M465.5 119.4h0M465.6 109.7h0M465.6 112.4h0M465.7 125.6h0M465.8 105.7h0M465.8 114.5h0M465.9 103.1h0M466 114.3h0M466.3 116.4h0M466.3 96.1h0M466.4 124.9h0M466.7 109.8h0M466.9 111.7h0M466.9 123.5h0M467.1 120.8h0M467.1 92.8h0M467.1 116.8h0M467.3 105.8h0M467.7 121.9h0M467.8 92.1h0M468.5 121h0M469.2 116.7h0M469.4 118.3h0M469.4 83.6h0M469.8 92.7h0M469.8 116.9h0M469.8 114.4h0M469.9 98.2h0M469.9 107.7h0M470 104h0M470.2 117.8h0M471.3 66.5h0M471.4 89.8h0M471.5 78.8h0M471.7 87.2h0M472.3 109h0M472.3 118.6h0M472.4 96.2h0M472.7 112.5h0M472.9 110.2h0M473.4 102.2h0M473.7 82.5h0M473.9 105.2h0M474.3 110.8h0M474.4 103.9h0M474.5 94.1h0M474.9 113.9h0M475.7 78.8h0M475.9 96.6h0M476 75.2h0M476 89.6h0M476.1 40.1h0M477.3 108.3h0M477.9 55.8h0M478.1 54.3h0M480 66.2h0M480.4 81.4h0M480.5 93.2h0M482.4 94.7h0M482.9 66.5h0M483.3 78.8h0M485.8 44.6h0M488 71.2h0M488.8 115.2h0M489.3 88h0M491.6 90.1h0M492.6 82.2h0M492.6 110h0M496.3 47.4h0M496.5 76.3h0M500 59.5h0M503.3 72.1h0" stroke="#f83a3a" stroke-width="1.85" stroke-linecap="round" fill="none"/>
<path d="M415.1 133.2h0M415.1 132.8h0M415.3 133h0M416 112.5h0M416 131h0M416 120.1h0M416 105.1h0M416.1 113.6h0M416.1 115h0M416.1 130.6h0M416.1 127h0M416.1 106.8h0M416.1 111.4h0M416.2 120.9h0M416.2 107.6h0M416.2 110.6h0M416.2 124.6h0M416.2 123.1h0M416.2 110.7h0M416.3 122.4h0M416.3 132.8h0M416.3 117.3h0M416.4 118.4h0M416.4 116.5h0M416.4 107.6h0M416.4 125.1h0M416.4 103.6h0M416.4 131.7h0M416.4 121.5h0M416.4 119.2h0M416.5 108.4h0M416.5 129.8h0M416.5 117.9h0M416.5 134.2h0M416.5 128h0M416.5 124.1h0M416.5 113.8h0M416.5 128.9h0M416.6 127.5h0M416.6 115.4h0M416.6 133.4h0M416.6 98.1h0M416.6 95.3h0M416.6 126h0M416.6 109.5h0M416.7 115.1h0M416.7 111.9h0M416.7 105.6h0M416.7 113.2h0M416.7 107.7h0M416.7 123.7h0M416.7 115.6h0M416.8 107.6h0M416.8 114.2h0M416.8 117.1h0M416.8 103.4h0M416.8 126.5h0M416.8 132.5h0M416.9 117.6h0M416.9 119.7h0M417 118.1h0M417 129h0M417 128.2h0M417 125.4h0M417 119.5h0M417 132.1h0M417 121.2h0M417 97.4h0M417.1 111.3h0M417.1 120.9h0M417.1 122.5h0M417.1 133.5h0M417.1 127.9h0M417.1 116.1h0M417.1 129.5h0M417.2 112.3h0M417.2 109.1h0M417.2 134.6h0M417.2 122.8h0M417.2 124.7h0M417.2 110.3h0M417.2 104.3h0M417.3 130.2h0M417.3 125.6h0M417.3 131.4h0M417.3 109.8h0M417.4 134.7h0M417.4 118.1h0M417.4 129.8h0M417.4 119.7h0M417.4 121.7h0M417.4 112.5h0M417.4 133.9h0M417.5 131.9h0M417.5 106.7h0M417.5 125.8h0M417.5 104.3h0M417.5 122h0M417.5 113.4h0M417.6 124.7h0M417.6 127.1h0M417.6 130.8h0M417.6 102.8h0M417.6 131.4h0M417.6 98.9h0M417.7 118.7h0M417.7 115.1h0M417.7 111.3h0M417.7 134.4h0M417.8 98.5h0M417.8 103.2h0M417.8 114h0M417.8 110.6h0M417.9 117.2h0M417.9 125h0M417.9 116.3h0M417.9 108.1h0M417.9 119.4h0M417.9 132.4h0M417.9 107.1h0M417.9 127.9h0M418 128.6h0M418 105.8h0M418 123.4h0M418 111.9h0M418 134.6h0M418 109.3h0M418.1 127.5h0M418.1 120.7h0M418.1 115.7h0M418.1 105.1h0M418.1 123.1h0M418.2 108.8h0M418.2 97.9h0M418.2 117.6h0M418.2 106.9h0M418.2 105.3h0M418.2 116.9h0M418.2 122.2h0M418.2 115.9h0M418.2 112.5h0M418.3 134.2h0M418.3 119.8h0M418.3 101.2h0M418.3 121.2h0M418.4 124h0M418.4 128.6h0M418.4 100.6h0M418.4 115.2h0M418.4 132h0M418.4 113.3h0M418.5 106h0M418.5 135h0M418.5 125.6h0M418.5 100h0M418.5 131.3h0M418.5 107.4h0M418.5 123.2h0M418.6 110.3h0M418.6 119.4h0M418.6 114.3h0M418.6 127.8h0M418.6 128.8h0M418.6 133.8h0M418.6 115.1h0M418.7 126.4h0M418.7 132.4h0M418.7 108.3h0M418.7 124.8h0M418.7 118.4h0M418.8 126.8h0M418.8 90.7h0M418.8 130.1h0M418.8 120.9h0M418.8 110.8h0M418.8 109.7h0M418.8 130.4h0M418.8 112h0M418.9 135.5h0M418.9 106.1h0M418.9 129.1h0M418.9 126.4h0M418.9 117.6h0M418.9 108.8h0M419 111h0M419 109.9h0M419 132.7h0M419.1 124.1h0M419.1 127.9h0M419.1 122.2h0M419.1 107.1h0M419.2 124.7h0M419.2 114.7h0M419.2 131.9h0M419.2 125.1h0M419.3 112.1h0M419.3 116.7h0M419.3 125.6h0M419.3 96.9h0M419.3 113.6h0M419.4 135.8h0M419.4 116.5h0M419.4 107.9h0M419.4 129.8h0M419.4 120.7h0M419.4 131.6h0M419.4 134.1h0M419.5 134.7h0M419.5 120h0M419.5 119.6h0M419.5 112.8h0M419.5 127.3h0M419.6 133.3h0M419.6 115.5h0M419.6 123.3h0M419.6 113.1h0M419.6 118.5h0M419.6 130.7h0M419.6 100.2h0M419.6 121.9h0M419.7 132.5h0M419.7 126.7h0M419.7 126.3h0M419.7 117.8h0M419.8 134.3h0M419.8 115.5h0M419.8 133.3h0M419.9 118.7h0M419.9 130.4h0M419.9 119.5h0M419.9 114.9h0M420 127.6h0M420 135.4h0M420 117.1h0M420 123.2h0M420 120.1h0M420 124.8h0M420.1 128.3h0M420.1 125.4h0M420.1 128.9h0M420.1 106.8h0M420.1 112.5h0M420.1 122.6h0M420.1 113.8h0M420.2 110.9h0M420.2 121.7h0M420.2 109.1h0M420.2 109.9h0M420.2 129.4h0M420.2 116.2h0M420.2 111.5h0M420.2 135.1h0M420.2 121.1h0M420.3 123.5h0M420.3 113.1h0M420.3 130.9h0M420.3 132.1h0M420.3 136.1h0M420.4 131.5h0M420.4 128.3h0M420.4 123.2h0M420.4 102.3h0M420.5 107.3h0M420.5 135.3h0M420.5 132.3h0M420.5 118.9h0M420.6 120.4h0M420.6 129.8h0M420.6 118.3h0M420.7 123.8h0M420.7 122.5h0M420.7 117.1h0M420.7 125.4h0M420.7 121.7h0M420.7 126h0M420.7 113.2h0M420.8 108.3h0M420.8 111.8h0M420.8 110.6h0M420.8 104.1h0M420.8 133h0M420.8 112.4h0M420.8 134.6h0M420.8 117.9h0M420.9 114.7h0M420.9 114h0M420.9 129.2h0M420.9 130.6h0M420.9 115.9h0M421 126.5h0M421 133.8h0M421 136.5h0M421 127.3h0M421 124.2h0M421 135.8h0M421.1 119.7h0M421.1 116.5h0M421.1 109.6h0M421.1 136.1h0M421.2 128.6h0M421.2 134.3h0M421.2 135.3h0M421.3 124.7h0M421.3 125h0M421.4 131.7h0M421.4 122.4h0M421.4 109.6h0M421.4 117.4h0M421.4 124.1h0M421.4 120.3h0M421.4 110.5h0M421.4 114.7h0M421.4 114.1h0M421.5 126.7h0M421.5 130.3h0M421.6 115.3h0M421.6 120.5h0M421.6 116.4h0M421.6 121.3h0M421.6 131h0M421.6 127.8h0M421.6 116.9h0M421.6 129.5h0M421.6 113.3h0M421.7 107.3h0M421.7 118.7h0M421.7 133.7h0M421.8 112.4h0M421.8 125.7h0M421.8 135.4h0M421.8 103.2h0M421.8 119.4h0M421.8 129.3h0M421.8 132.7h0M421.8 123.3h0M421.9 134.4h0M421.9 119.8h0M421.9 128.1h0M422 127.4h0M422 123.8h0M422 126.1h0M422.1 116.5h0M422.1 114.4h0M422.1 133h0M422.1 119.3h0M422.1 131.6h0M422.1 120.5h0M422.1 113.7h0M422.2 133.8h0M422.2 118.5h0M422.2 107.4h0M422.2 123.3h0M422.3 108.7h0M422.3 130.3h0M422.3 110.8h0M422.3 124.6h0M422.3 115.8h0M422.4 104.5h0M422.4 122.4h0M422.4 129.4h0M422.4 110.2h0M422.5 135.3h0M422.5 111.9h0M422.5 112.7h0M422.5 132.3h0M422.5 129h0M422.5 117.4h0M422.5 127h0M422.5 135.7h0M422.5 121.7h0M422.5 125.3h0M422.6 137h0M422.6 136.6h0M422.6 123.6h0M422.6 124.5h0M422.8 117.6h0M422.8 114h0M422.8 128.7h0M422.9 112.9h0M422.9 111.6h0M422.9 119.2h0M422.9 132.1h0M422.9 103.6h0M422.9 106.7h0M423 131.6h0M423 134.9h0M423 118.7h0M423 115.8h0M423.1 128.2h0M423.1 107.7h0M423.1 136.8h0M423.1 126.3h0M423.1 127.3h0M423.1 134.2h0M423.1 129.5h0M423.1 114.6h0M423.2 135.4h0M423.2 132.6h0M423.2 125.3h0M423.2 120.1h0M423.2 112.7h0M423.3 126.5h0M423.3 121.4h0M423.3 116.1h0M423.3 130.3h0M423.3 110.3h0M423.3 137.4h0M423.3 111.1h0M423.3 122h0M423.4 133.2h0M423.4 123.1h0M423.4 121h0M423.4 127.1h0M423.4 122.7h0M423.4 133.2h0M423.4 121.3h0M423.4 118.6h0M423.4 127h0M423.5 129.7h0M423.5 125h0M423.5 132.2h0M423.5 128.9h0M423.5 134.9h0M423.5 134.6h0M423.5 115.8h0M423.6 119.6h0M423.6 124.5h0M423.6 120h0M423.6 136.8h0M423.7 122.4h0M423.7 120.9h0M423.7 109h0M423.7 118h0M423.7 130.3h0M423.7 123.4h0M423.8 135.6h0M423.8 125.8h0M423.8 116.2h0M423.8 106.7h0M423.8 114.8h0M423.8 130.9h0M423.8 128h0M423.9 132.9h0M423.9 113.1h0M424 137.6h0M424 137.6h0M424 114.4h0M424.1 117.3h0M424.2 105.2h0M424.2 114h0M424.2 121.3h0M424.2 120.2h0M424.2 115.1h0M424.2 125.8h0M424.2 123.6h0M424.2 119.4h0M424.3 131.7h0M424.3 131.3h0M424.3 132.7h0M424.3 117.2h0M424.4 130.4h0M424.4 127.6h0M424.5 114.8h0M424.5 136.4h0M424.5 125.5h0M424.5 134.7h0M424.5 120.6h0M424.6 128.2h0M424.7 122.8h0M424.7 133.5h0M424.7 137.5h0M424.7 126.8h0M424.7 129.2h0M424.7 118.8h0M424.7 130h0M424.8 122h0M424.8 134.3h0M424.8 135.5h0M424.8 118h0M424.8 124.8h0M424.9 137.9h0M424.9 117.7h0M424.9 119.4h0M425 123.3h0M425.1 134.8h0M425.1 131h0M425.2 122.6h0M425.2 126.3h0M425.2 128.6h0M425.2 125h0M425.2 114.4h0M425.2 127.8h0M425.2 116.4h0M425.2 123.7h0M425.2 133.2h0M425.2 133h0M425.3 120.1h0M425.3 115.9h0M425.3 130.6h0M425.3 121.7h0M425.3 132.1h0M425.3 134.5h0M425.3 137.3h0M425.4 138h0M425.4 128.3h0M425.5 113.3h0M425.5 136.2h0M425.5 126.8h0M425.5 124.5h0M425.5 114.5h0M425.5 136h0M425.5 129.8h0M425.6 118.3h0M425.6 112.6h0M425.7 123.3h0M425.7 133.3h0M425.7 123.7h0M425.7 108.5h0M425.7 131h0M425.7 121.8h0M425.8 114.2h0M425.9 136.9h0M425.9 119.1h0M426 120.7h0M426 116.8h0M426 126h0M426 125.5h0M426 128.8h0M426 135.1h0M426 136.2h0M426.1 114.8h0M426.1 130.2h0M426.1 131.9h0M426.1 135.8h0M426.1 128h0M426.1 127.8h0M426.2 122.3h0M426.2 126.8h0M426.2 129.4h0M426.2 133.1h0M426.3 134.1h0M426.3 137.8h0M426.3 115.8h0M426.3 120.4h0M426.3 124.3h0M426.4 118h0M426.4 111.7h0M426.4 128.1h0M426.4 137.6h0M426.5 121.8h0M426.5 118.4h0M426.5 131.6h0M426.6 125.2h0M426.6 117.4h0M426.7 124.4h0M426.7 120h0M426.7 129.7h0M426.8 131.7h0M426.8 122.5h0M426.8 134.5h0M426.8 123.6h0M426.8 122.9h0M426.9 136.1h0M426.9 120.9h0M426.9 138.4h0M426.9 133.1h0M426.9 130.7h0M426.9 127.2h0M427 116.5h0M427 135h0M427 132.8h0M427 129.3h0M427.1 114.3h0M427.1 126.5h0M427.1 126.1h0M427.1 136.1h0M427.1 119.5h0M427.1 138.5h0M427.1 127.7h0M427.1 120.3h0M427.2 128.8h0M427.2 121.6h0M427.2 133.4h0M427.2 118.8h0M427.2 126.9h0M427.2 134.6h0M427.3 135.9h0M427.3 122.8h0M427.3 136.2h0M427.4 119.4h0M427.4 125.5h0M427.4 125.8h0M427.5 131.9h0M427.6 130.4h0M427.6 138.5h0M427.6 123.5h0M427.6 134.4h0M427.6 137h0M427.7 114.9h0M427.7 131h0M427.8 120.8h0M427.8 128.1h0M427.8 129.6h0M427.8 122.6h0M427.8 132.5h0M427.8 137.9h0M427.8 124.8h0M427.9 136h0M427.9 136.4h0M427.9 125.4h0M427.9 138.6h0M427.9 138h0M428 137h0M428 135.4h0M428 116h0M428.1 114.2h0M428.1 119.6h0M428.1 131.7h0M428.1 127.9h0M428.1 127h0M428.1 133h0M428.2 121.1h0M428.2 130.2h0M428.3 128.7h0M428.3 134h0M428.3 124.6h0M428.3 121.2h0M428.4 119.5h0M428.5 127.9h0M428.5 129.5h0M428.5 131.5h0M428.5 113.4h0M428.5 125.7h0M428.6 123h0M428.6 122.4h0M428.6 133.8h0M428.6 124h0M428.7 137.7h0M428.7 113.3h0M428.7 136.5h0M428.7 123.7h0M428.8 118.3h0M428.8 135.3h0M428.9 129.8h0M428.9 130.6h0M428.9 137.4h0M429 135.5h0M429 128.3h0M429.1 124.6h0M429.1 116.3h0M429.1 127.5h0M429.1 133.5h0M429.1 125.5h0M429.1 126.2h0M429.1 132.4h0M429.2 128.9h0M429.2 122.7h0M429.2 119.1h0M429.3 138.6h0M429.3 134h0M429.3 132.1h0M429.3 121.4h0M429.3 126.6h0M429.3 131.5h0M429.4 116.6h0M429.5 130.9h0M429.5 128.5h0M429.6 127.1h0M429.6 123.4h0M429.6 125.5h0M429.6 134.7h0M429.6 135.7h0M429.6 118h0M429.6 130.6h0M429.7 134.5h0M429.7 121.5h0M429.7 136.5h0M429.7 138.9h0M429.7 137.9h0M429.8 127h0M429.8 133.4h0M429.8 124.6h0M429.8 132h0M429.8 129.9h0M429.9 137.5h0M429.9 119.9h0M429.9 139.2h0M430 129.1h0M430 122.7h0M430 133h0M430.1 126.2h0M430.1 125.7h0M430.2 127.8h0M430.2 128.3h0M430.2 126.7h0M430.3 134.9h0M430.3 131.5h0M430.3 120.3h0M430.3 138.3h0M430.3 129h0M430.4 121.1h0M430.4 133.7h0M430.4 138.7h0M430.4 124.6h0M430.4 119.5h0M430.4 130.5h0M430.4 134.1h0M430.5 124.9h0M430.5 136h0M430.6 136.6h0M430.6 123.8h0M430.6 132h0M430.7 139.1h0M430.7 136.9h0M430.8 122.9h0M430.8 129.7h0M430.8 133.1h0M430.9 121.5h0M430.9 121h0M430.9 130.5h0M430.9 122h0M430.9 126.6h0M431 131.2h0M431 136h0M431 136.9h0M431.1 132.3h0M431.1 139.3h0M431.2 126.2h0M431.2 124.2h0M431.3 128.2h0M431.3 137.3h0M431.3 135.1h0M431.4 133.4h0M431.4 133h0M431.4 134.5h0M431.5 138.9h0M431.5 129.8h0M431.5 125.2h0M431.5 129.1h0M431.6 123.9h0M431.6 138.2h0M431.6 127.7h0M431.6 123.8h0M431.7 129.9h0M431.7 139.3h0M431.7 138.8h0M431.8 127.9h0M431.8 126.8h0M431.8 130.3h0M431.8 136h0M431.8 134.4h0M431.8 138.1h0M431.9 133.6h0M432 135.2h0M432 125h0M432.2 127.2h0M432.2 126h0M432.2 137.3h0M432.3 132.1h0M432.3 136.6h0M432.3 131.5h0M432.4 129h0M432.4 132.9h0M432.4 130.1h0M432.5 129h0M432.5 128.5h0M432.5 134.6h0M432.5 139.4h0M432.5 133.2h0M432.5 136.6h0M432.6 127h0M432.6 132.9h0M432.6 131.3h0M432.7 127.5h0M432.7 130.4h0M432.7 134.5h0M432.8 135.9h0M433 138.6h0M433 138.1h0M433 132.3h0M433.1 137.5h0M433.2 138.8h0M433.2 130.7h0M433.2 131.5h0M433.5 139.5h0M433.5 135h0M433.5 136.5h0M433.5 136h0M433.5 134.6h0M433.5 132.8h0M433.6 137.2h0M433.6 131.9h0M433.9 137.9h0M433.9 133.7h0M433.9 136.4h0M433.9 137h0M434 139.6h0M434 136h0M434.1 133.8h0M434.1 134.7h0M434.2 134.4h0M434.4 138.6h0M434.6 137.9h0M434.7 137.8h0M434.7 139.4h0M434.7 136.8h0M434.8 137.1h0M435 138.6h0M435.8 139.5h0M435.8 138.1h0M436 138.8h0M436 137.1h0M436.3 135.4h0M436.3 137.8h0M436.4 138.7h0M436.6 136.8h0M436.6 134.6h0M436.7 139.2h0M436.7 134.9h0M436.8 133.5h0M436.9 137.6h0M436.9 138.5h0M437 136.2h0M437 132h0M437.1 137.7h0M437.2 137.1h0M437.2 133.9h0M437.3 132.7h0M437.4 130.5h0M437.4 131.3h0M437.5 133.9h0M437.5 134.6h0M437.5 129.8h0M437.6 139.3h0M437.6 135.4h0M437.7 138.6h0M437.7 133.2h0M437.7 137.4h0M437.7 136.2h0M437.8 134.7h0M437.8 129.5h0M437.9 132.4h0M438 127.7h0M438 139.2h0M438 138.4h0M438.1 129.3h0M438.1 132.1h0M438.2 131.5h0M438.2 128.2h0M438.2 134.1h0M438.3 135.6h0M438.4 130.7h0M438.4 129h0M438.4 127.2h0M438.5 137.2h0M438.6 133.8h0M438.6 134.6h0M438.7 128.3h0M438.7 129.4h0M438.8 126.6h0M438.8 138.4h0M438.8 125h0M438.9 132.8h0M438.9 134.3h0M439 130.1h0M439 139.2h0M439 125.9h0M439.1 138.4h0M439.1 136.2h0M439.1 131.5h0M439.1 132.3h0M439.1 135.5h0M439.2 131.1h0M439.2 135.4h0M439.2 127.7h0M439.3 132.2h0M439.3 135.7h0M439.3 133.7h0M439.4 137.7h0M439.4 121.9h0M439.4 128h0M439.5 129.7h0M439.5 122.6h0M439.5 128.8h0M439.5 133h0M439.6 123.7h0M439.6 134.6h0M439.6 126.1h0M439.6 130.5h0M439.6 126.6h0M439.7 139.2h0M439.7 125.5h0M439.8 136.5h0M439.8 137.3h0M439.8 138.7h0M439.8 122.5h0M439.9 132.8h0M439.9 125.1h0M439.9 121.3h0M439.9 135.2h0M440 134.4h0M440 130.2h0M440 124.7h0M440.1 137.7h0M440.1 132h0M440.2 127.8h0M440.2 138.8h0M440.2 117.3h0M440.3 125.8h0M440.3 123.6h0M440.3 120.6h0M440.3 133.7h0M440.3 126.8h0M440.3 122.4h0M440.4 128.2h0M440.4 131.5h0M440.4 120.1h0M440.4 129.4h0M440.5 139.2h0M440.5 137.3h0M440.5 136.3h0M440.5 119.2h0M440.5 122.7h0M440.5 129.2h0M440.6 135.5h0M440.7 131h0M440.7 129.4h0M440.7 128.6h0M440.7 134.7h0M440.7 138.3h0M440.7 117.9h0M440.8 136.1h0M440.8 134h0M440.9 137.1h0M440.9 131.9h0M440.9 133.1h0M440.9 126.7h0M440.9 139.1h0M440.9 128.8h0M440.9 124.5h0M441 120.4h0M441 138.9h0M441 122.2h0M441.1 136.8h0M441.1 122.9h0M441.1 125.2h0M441.1 130.5h0M441.2 133.5h0M441.2 127.5h0M441.2 119.8h0M441.3 124h0M441.3 119.4h0M441.3 126.3h0M441.4 123.6h0M441.4 127h0M441.4 135.7h0M441.5 129.9h0M441.5 138.2h0M441.5 124.9h0M441.5 117.8h0M441.5 133h0M441.5 128.2h0M441.6 137.4h0M441.6 133.5h0M441.7 135.1h0M441.7 127.6h0M441.7 130.1h0M441.7 132h0M441.8 128.7h0M441.8 138.8h0M441.8 118.3h0M441.8 131.3h0M441.8 120.5h0M441.9 121.2h0M442 114.8h0M442 124.3h0M442 120.4h0M442 134.3h0M442.1 136.4h0M442.1 122.9h0M442.1 119.3h0M442.1 125.9h0M442.2 124.3h0M442.2 128h0M442.2 132.6h0M442.2 122h0M442.2 129.4h0M442.2 120.6h0M442.3 126.5h0M442.3 122.7h0M442.3 136.8h0M442.3 134.8h0M442.3 137.4h0M442.3 127.4h0M442.4 116.6h0M442.4 119h0M442.4 132.3h0M442.5 126.3h0M442.5 138.2h0M442.5 130.1h0M442.5 125.4h0M442.5 131.1h0M442.5 133.4h0M442.6 135.4h0M442.6 121.3h0M442.7 130.4h0M442.7 123.4h0M442.7 118.7h0M442.8 111.5h0M442.8 138.5h0M442.8 117.8h0M442.8 120h0M442.8 134.2h0M442.9 114.2h0M442.9 136.2h0M442.9 120.8h0M442.9 131.9h0M442.9 129h0M443 135.9h0M443 130.3h0M443.1 137.4h0M443.1 133.1h0M443.1 123.1h0M443.1 137.7h0M443.2 126.9h0M443.2 135.2h0M443.2 128.3h0M443.3 133.4h0M443.3 131h0M443.3 126.2h0M443.3 123.8h0M443.4 122.6h0M443.4 125.1h0M443.4 127.6h0M443.4 119.1h0M443.4 129.9h0M443.5 138.4h0M443.5 116.3h0M443.6 121.5h0M443.6 124.5h0M443.6 134.3h0M443.6 118.2h0M443.6 113.1h0M443.6 120.1h0M443.7 123.8h0M443.7 131.9h0M443.7 133.7h0M443.7 119.3h0M443.8 130.9h0M443.8 124.3h0M443.8 115.8h0M443.9 135.2h0M443.9 132.6h0M443.9 127.5h0M444 122.2h0M444 128.8h0M444 138.4h0M444 131h0M444.1 112.5h0M444.1 134.3h0M444.1 118.7h0M444.1 117.9h0M444.1 119.8h0M444.1 137.1h0M444.2 120.6h0M444.2 128h0M444.2 121.3h0M444.2 136.7h0M444.3 137.8h0M444.3 135.9h0M444.3 125.7h0M444.3 125h0M444.3 127.1h0M444.3 129.6h0M444.3 115h0M444.4 123h0M444.4 113.8h0M444.4 117.9h0M444.4 133.1h0M444.4 126.3h0M444.4 135.5h0M444.4 118.3h0M444.4 115.2h0M444.5 128.1h0M444.5 132.1h0M444.5 136.8h0M444.5 131.3h0M444.6 134.9h0M444.6 121.6h0M444.6 125.4h0M444.6 123h0M444.7 137.9h0M444.7 128.8h0M444.7 120.9h0M444.7 124.3h0M444.8 101.6h0M444.8 117h0M444.9 124.1h0M444.9 129.8h0M444.9 114.4h0M444.9 122.4h0M444.9 137h0M444.9 120.2h0M444.9 133.3h0M444.9 105.7h0M444.9 130.8h0M445 111.7h0M445 126.4h0M445 118.9h0M445.1 127.6h0M445.1 133.9h0M445.2 126.1h0M445.2 115.2h0M445.2 137.8h0M445.2 133.6h0M445.3 134.1h0M445.3 118.8h0M445.3 136.1h0M445.4 129.5h0M445.4 124.6h0M445.4 130.5h0M445.4 120.4h0M445.5 109h0M445.5 129.3h0M445.5 119.9h0M445.5 103.9h0M445.5 135.3h0M445.5 136.6h0M445.5 119h0M445.6 123.3h0M445.6 111.9h0M445.6 126.9h0M445.6 122.6h0M445.7 117.4h0M445.7 127.8h0M445.7 121.1h0M445.7 123.9h0M445.7 113.1h0M445.8 137.1h0M445.8 133.1h0M445.8 116.4h0M445.8 131.8h0M445.8 116.9h0M445.8 128.3h0M445.9 131h0M445.9 115h0M445.9 125.4h0M445.9 127.8h0M445.9 135.7h0M445.9 121.6h0M446 114.7h0M446 137.3h0M446 134.4h0M446 126.2h0M446 118.5h0M446 115.4h0M446.1 119.7h0M446.1 130.6h0M446.1 129.2h0M446.1 125.3h0M446.2 135.3h0M446.2 136.2h0M446.2 131.2h0M446.2 124.4h0M446.3 132.1h0M446.3 132.5h0M446.3 127h0M446.3 109.8h0M446.3 117.9h0M446.3 133.5h0M446.3 111.4h0M446.3 109.9h0M446.4 124.1h0M446.4 114.3h0M446.4 113.5h0M446.5 116.6h0M446.5 128.4h0M446.5 112.2h0M446.5 122.4h0M446.5 119.4h0M446.5 129.4h0M446.5 123.3h0M446.5 137.6h0M446.5 121h0M446.7 125.6h0M446.7 130.4h0M446.7 136.4h0M446.8 126.7h0M446.8 114.4h0M446.8 122.8h0M446.9 133.4h0M446.9 108.8h0M446.9 119.7h0M446.9 129h0M446.9 126.2h0M446.9 118.4h0M447 122.1h0M447 129.7h0M447 131.7h0M447 112.5h0M447 118.1h0M447 114.8h0M447.1 135.4h0M447.1 132.8h0M447.1 113h0M447.1 131.4h0M447.1 109.3h0M447.1 120.9h0M447.1 124.9h0M447.1 111.1h0M447.1 134.9h0M447.2 115.9h0M447.2 119.3h0M447.3 104.9h0M447.3 110.2h0M447.3 137.4h0M447.3 127.7h0M447.3 123.4h0M447.3 108.3h0M447.3 116.1h0M447.3 128.2h0M447.3 116.7h0M447.3 134.4h0M447.4 136.7h0M447.4 130.7h0M447.4 129.3h0M447.5 110.9h0M447.5 126.6h0M447.5 103.2h0M447.5 122.4h0M447.5 113.3h0M447.5 119.6h0M447.5 112h0M447.5 130.9h0M447.6 118.6h0M447.6 125.1h0M447.6 124.3h0M447.6 110.3h0M447.7 134.5h0M447.7 128.3h0M447.7 132.8h0M447.7 123.4h0M447.7 117.7h0M447.7 109.6h0M447.7 135.4h0M447.8 127.7h0M447.8 112.5h0M447.8 121.3h0M447.9 125.9h0M447.9 134.9h0M447.9 122.7h0M447.9 114.5h0M448 116.6h0M448 132.1h0M448 137.2h0M448 133.5h0M448 117.3h0M448 115.8h0M448 104.1h0M448.1 129.4h0M448.1 121h0M448.1 108.9h0M448.1 120h0M448.1 112.8h0M448.1 130.9h0M448.2 107.5h0M448.2 105.9h0M448.2 136.1h0M448.2 102.3h0M448.2 137h0M448.2 123.4h0M448.2 120.9h0M448.3 128.6h0M448.3 124.7h0M448.3 114h0M448.3 119.6h0M448.3 129.1h0M448.3 112.1h0M448.3 117.6h0M448.3 108.6h0M448.4 130.8h0M448.4 133.5h0M448.5 111.3h0M448.5 118.1h0M448.5 121.6h0M448.5 110.6h0M448.5 125.4h0M448.6 135.8h0M448.6 132h0M448.6 115.5h0M448.6 122.2h0M448.6 116.1h0M448.6 126.3h0M448.6 119.8h0M448.6 134.7h0M448.7 112.9h0M448.7 134.1h0M448.7 130h0M448.7 123.7h0M448.7 126.5h0M448.8 127.8h0M448.8 117.4h0M448.8 132.7h0M448.9 131.5h0M448.9 129.1h0M448.9 110h0M449 119.3h0M449 127.5h0M449 128.4h0M449 135.3h0M449 125.8h0M449 120.5h0M449 124.2h0M449 136.7h0M449.1 122.7h0M449.1 130.5h0M449.1 112.8h0M449.1 107.3h0M449.2 132.9h0M449.2 111.2h0M449.2 121.8h0M449.2 122.2h0M449.2 117.5h0M449.2 117.3h0M449.3 133.5h0M449.3 102.2h0M449.3 131.7h0M449.3 113.3h0M449.4 125h0M449.4 115.8h0M449.4 123.5h0M449.4 116h0M449.4 118.4h0M449.4 120.1h0M449.5 111.7h0M449.5 108.4h0M449.5 114.5h0M449.5 130h0M449.6 134.6h0M449.6 126.8h0M449.6 135.7h0M449.6 114.3h0M449.6 113.9h0M449.7 135.3h0M449.7 134.1h0M449.7 116.2h0M449.7 119.4h0M449.7 112.6h0M449.8 131.3h0M449.8 125.2h0M449.8 110.7h0M449.8 129.6h0M449.8 123.5h0M449.8 117.2h0M449.8 107.8h0M449.8 97.4h0M449.8 118.2h0M449.9 106.2h0M449.9 117.8h0M449.9 110.2h0M449.9 135.6h0M449.9 127.5h0M449.9 109.5h0M450 122.1h0M450 128.7h0M450 105.3h0M450 136.3h0M450 103.2h0M450 130.3h0M450 125.8h0M450.1 92.1h0M450.2 119.8h0M450.2 111.6h0M450.2 126.4h0M450.2 115.2h0M450.2 113.2h0M450.2 123.4h0M450.2 121.3h0M450.2 132.6h0M450.2 131.9h0M450.3 108.6h0M450.3 133.5h0M450.3 107.4h0M450.3 124.8h0M450.4 120.7h0M450.4 128.5h0M450.4 135.2h0M450.4 107.1h0M450.4 114.4h0M450.5 120.7h0M450.5 123.9h0M450.6 110.3h0M450.6 105.6h0M450.6 112.7h0M450.6 134h0M450.7 132.7h0M450.7 129.9h0M450.7 125.9h0M450.7 136.1h0M450.7 116.6h0M450.7 128.5h0M450.7 123.2h0M450.7 122.6h0M450.7 124.1h0M450.7 132.2h0M450.8 129h0M450.8 105h0M450.8 103.7h0M450.8 109.6h0M450.8 103h0M450.8 121.2h0M450.8 126.7h0M450.8 120.2h0M450.9 136h0M450.9 108.2h0M450.9 130.6h0M450.9 131.3h0M450.9 100.9h0M450.9 117.8h0M451 125.6h0M451 97.7h0M451 133.6h0M451 111.7h0M451 113.4h0M451 108.5h0M451 118.5h0M451 119.1h0M451 115.5h0M451 113.6h0M451.1 127.3h0M451.1 116.2h0M451.1 106.3h0M451.1 116.6h0M451.2 131.6h0M451.2 134.8h0M451.2 128.3h0M451.2 130.7h0M451.2 114.8h0M451.2 133.7h0M451.2 118h0M451.3 122.5h0M451.3 119.9h0M451.3 107h0M451.3 101.1h0M451.3 127.6h0M451.4 110.2h0M451.4 133.1h0M451.4 116.7h0M451.4 104.5h0M451.4 118.9h0M451.5 105.9h0M451.5 122.8h0M451.5 115.6h0M451.5 132h0M451.5 135.4h0M451.5 111.3h0M451.5 125.6h0M451.6 129.5h0M451.7 124.7h0M451.7 134.5h0M451.7 121.1h0M451.7 126h0M451.7 121.6h0M451.7 111.9h0M451.7 124.1h0M451.7 113.8h0M451.7 113.3h0M451.8 128.8h0M451.8 119h0M451.8 108.2h0M451.8 127h0M451.8 103.5h0M451.8 100.7h0M451.9 109.1h0M451.9 109.5h0M451.9 124.8h0M451.9 125.1h0M451.9 132.2h0M451.9 131.5h0M451.9 129.3h0M451.9 115.4h0M451.9 114.2h0M452 108.2h0M452 129.4h0M452 135.4h0M452 106.7h0M452.1 117.5h0M452.1 135h0M452.1 130.6h0M452.1 104.3h0M452.1 133.8h0M452.1 121.7h0M452.1 132.4h0M452.2 128h0M452.3 122.7h0M452.3 134h0M452.3 103.4h0M452.4 102.9h0M452.4 118.2h0M452.4 123.8h0M452.4 126.3h0M452.4 120.7h0M452.4 99.5h0M452.5 115.9h0M452.5 112.8h0M452.5 127.6h0M452.6 119.5h0M452.6 111h0M452.6 126.5h0M452.6 109h0M452.6 113.2h0M452.6 120.3h0M452.6 111.8h0M452.6 117.2h0M452.6 114.5h0M452.6 122.5h0M452.6 92.3h0M452.7 94.3h0M452.7 116.1h0M452.7 127.2h0M452.7 105.6h0M452.8 127h0M452.8 103.2h0M452.8 134.5h0M452.8 108.8h0M452.8 132.6h0M452.8 134.8h0M452.8 124.4h0M452.8 125h0M452.8 121.8h0M452.9 95.9h0M452.9 129h0M452.9 100.1h0M452.9 114.2h0M452.9 98.1h0M452.9 97.2h0M452.9 122.6h0M453 118.8h0M453 119.4h0M453 110.6h0M453 120.3h0M453 111.9h0M453 131.5h0M453 128.2h0M453 109.5h0M453.1 104.7h0M453.1 121.1h0M453.2 123.6h0M453.2 123.2h0M453.2 129.4h0M453.2 112.2h0M453.2 106.6h0M453.2 113.6h0M453.2 133.4h0M453.2 115.4h0M453.2 114.5h0M453.2 130.8h0M453.2 126.1h0M453.3 131.7h0M453.3 100.2h0M453.3 110.7h0M453.3 108h0M453.3 118h0M453.3 101.3h0M453.4 107h0M453.4 116.9h0M453.4 104.6h0M453.4 118.8h0M453.4 134.6h0M453.5 108.9h0M453.5 107.3h0M453.5 95.3h0M453.6 123.5h0M453.6 122.1h0M453.6 120.8h0M453.6 129.8h0M453.7 132.8h0M453.7 116.9h0M453.7 102.2h0M453.7 123h0M453.7 111.4h0M453.7 116.1h0M453.8 120.2h0M453.8 132.4h0M453.8 128.5h0M453.8 124.8h0M453.8 130.6h0M453.8 101.2h0M453.8 112.7h0M453.8 105.8h0M453.8 97.9h0M453.9 127.3h0M453.9 111h0M453.9 114.4h0M453.9 125.9h0M453.9 114.1h0M453.9 127.1h0M454 133.9h0M454 129h0M454 100.6h0M454 108.3h0M454 119.1h0M454 131.5h0M454.1 105h0M454.1 115.6h0M454.1 110h0M454.1 113.5h0M454.1 117.4h0M454.1 106.6h0M454.1 125.3h0M454.1 121.6h0M454.1 109.9h0M454.1 133.1h0M454.1 111.5h0M454.2 123.3h0M454.2 96.3h0M454.2 109.6h0M454.3 130.9h0M454.3 114.9h0M454.3 120.6h0M454.3 105.8h0M454.3 106.2h0M454.3 104.4h0M454.3 99.1h0M454.3 112.5h0M454.3 108.7h0M454.4 134.2h0M454.4 126.1h0M454.4 107.9h0M454.4 120.3h0M454.4 133h0M454.4 130.7h0M454.4 117.5h0M454.4 122.4h0M454.4 113.7h0M454.5 102.2h0M454.5 123.6h0M454.5 116.9h0M454.5 110.3h0M454.5 125h0M454.5 97.5h0M454.5 115.5h0M454.5 127h0M454.5 113.3h0M454.6 127.4h0M454.6 115.9h0M454.6 99.7h0M454.6 128.7h0M454.6 118.7h0M454.6 130.1h0M454.6 119.6h0M454.7 98.6h0M454.7 133.6h0M454.7 110.9h0M454.7 124.7h0M454.8 121.6h0M454.8 128.2h0M454.8 132.2h0M455 133.5h0M455.1 132.6h0M455.8 132.8h0" stroke="#000" stroke-width="1.2" stroke-linecap="round" fill="none"/>
<rect x="371.6" y="35.7" width="138.1" height="107.9" fill="none" stroke="#888" stroke-width="0.7"/>
<text x="375.7" y="155.8" font-size="9.6" text-anchor="middle" fill="#111">-6</text>
<text x="395.1" y="155.8" font-size="9.6" text-anchor="middle" fill="#111">-4</text>
<text x="414.5" y="155.8" font-size="9.6" text-anchor="middle" fill="#111">-2</text>
<text x="435.4" y="155.8" font-size="9.6" text-anchor="middle" fill="#111">0</text>
<text x="454.8" y="155.8" font-size="9.6" text-anchor="middle" fill="#111">2</text>
<text x="474.2" y="155.8" font-size="9.6" text-anchor="middle" fill="#111">4</text>
<text x="493.6" y="155.8" font-size="9.6" text-anchor="middle" fill="#111">6</text>
<text font-size="9.6" text-anchor="middle" fill="#111" transform="translate(366.3 139.6) rotate(-90)">0</text>
<text font-size="9.6" text-anchor="middle" fill="#111" transform="translate(366.3 122.2) rotate(-90)">5</text>
<text font-size="9.6" text-anchor="middle" fill="#111" transform="translate(366.3 104.8) rotate(-90)">10</text>
<text font-size="9.6" text-anchor="middle" fill="#111" transform="translate(366.3 87.4) rotate(-90)">15</text>
<text font-size="9.6" text-anchor="middle" fill="#111" transform="translate(366.3 70) rotate(-90)">20</text>
<text font-size="9.6" text-anchor="middle" fill="#111" transform="translate(366.3 52.6) rotate(-90)">25</text>
<path d="M377.2 143.6v3M396.6 143.6v3M416 143.6v3M435.4 143.6v3M454.8 143.6v3M474.2 143.6v3M493.6 143.6v3M371.6 139.6h-3M371.6 122.2h-3M371.6 104.8h-3M371.6 87.4h-3M371.6 70h-3M371.6 52.6h-3" stroke="#666" stroke-width="0.7" fill="none"/>
<text x="443.7" y="170.8" font-size="9.7" text-anchor="middle" fill="#111">log2FC</text>
<text font-size="9.7" text-anchor="middle" fill="#111" transform="translate(351.6 92.6) rotate(-90)">-log10(Padj)</text>
<text x="441.2" y="26.6" font-size="9.45" text-anchor="middle" font-weight="bold" fill="#111">GSE196006: CRC vs Adjacent</text>
<rect x="371.6" y="120.5" width="23.9" height="23.1" fill="#fff" stroke="#777" stroke-width="0.6"/>
<text x="372.8" y="127.4" font-size="4.5" fill="#222">Padj&lt;0.01</text>
<circle cx="375" cy="133.7" r="0.7" fill="#29b6f6"/>
<circle cx="375" cy="139.2" r="0.7" fill="#f83a3a"/>
<text x="378.6" y="135.3" font-size="5.2" fill="#222">down</text>
<text x="378.6" y="140.8" font-size="5.2" fill="#222">up</text>
<path d="M546.5 110.1h0M547 105.5h0M547.6 114.5h0M549.1 113.7h0M550.6 115.9h0M551.6 110.4h0M552.8 109.7h0M553.1 118.6h0M553.8 83.3h0M555.2 116.6h0M555.7 113.1h0M555.8 109.9h0M556.4 113h0M556.7 37.7h0M557.8 114.7h0M558.5 119h0M559 112.6h0M559.2 119.3h0M559.3 113.8h0M559.4 115.1h0M560.2 113.4h0M560.8 118.2h0M560.8 118.3h0M561.3 119.8h0M561.5 123h0M562.4 123.5h0M562.5 124.4h0M563 116.9h0M563.5 119.2h0M563.7 123.8h0M563.9 122.7h0M563.9 103.2h0M564.4 124.9h0M564.5 125.2h0M564.5 119.2h0M565.2 120.4h0M565.3 125.8h0M565.7 121.8h0M565.7 115.5h0M565.9 125.4h0M566.6 119h0M566.6 124.1h0M566.7 121.2h0M567.3 119.8h0M567.4 118.4h0M567.5 120.9h0M567.7 121.1h0M567.7 127.1h0M567.9 114.9h0M568.7 124h0M568.7 122.4h0M569 123.1h0M569 125.1h0M569.1 119.4h0M569.2 61.5h0M569.3 126.4h0M569.8 121.8h0M569.9 127.5h0M570 123.2h0M570.1 125.7h0M570.3 115.8h0M570.6 122.4h0M570.7 126.6h0M571 128.4h0M571 125.7h0M571.2 124.1h0M571.5 124.3h0M571.6 127.2h0M572.1 121.9h0M572.5 120.5h0M572.6 128h0M572.6 122.3h0M572.7 125.2h0M573 129h0M573.1 71h0M573.1 89.7h0M573.1 118.1h0M573.2 126.3h0M573.3 119.1h0M573.4 120.4h0M573.5 127.2h0M573.7 123.5h0M573.9 129h0M574.1 76.3h0M574.7 128h0M574.8 123.2h0M574.8 122.9h0M575 126h0M575.3 124.9h0M575.4 128.3h0M575.4 115.8h0M575.7 124.2h0M575.8 126.5h0M576 129.3h0M576.1 116.6h0M576.3 126h0M576.3 123.2h0M576.4 129.7h0M576.6 104.2h0M576.7 128.2h0M577.3 119h0M577.4 128.6h0M577.5 130h0M577.5 118h0M577.8 130.7h0M577.8 126.8h0M578.2 101.6h0M578.2 123.8h0M578.3 131.7h0M578.4 121.6h0M578.5 122.9h0M578.7 128.6h0M578.9 128.9h0M579.2 131.7h0M579.2 121.3h0M579.3 124.3h0M579.4 125.9h0M579.4 127.9h0M579.5 119.7h0M579.6 112.4h0M579.7 120.3h0M579.8 130.6h0M579.8 129.3h0M579.9 122.1h0M580 131.6h0M580.1 121.4h0M580.2 131.3h0M580.2 127.7h0M580.2 117.5h0M580.3 77.4h0M580.3 80.4h0M580.6 130.5h0M580.7 125.2h0M580.7 122.8h0M580.9 128.2h0M580.9 128.9h0M581.1 124.8h0M581.3 128.7h0M581.3 126.8h0M581.5 132.4h0M581.5 129.4h0M581.6 127.8h0M581.6 131.4h0M581.7 123.3h0M581.7 120.9h0M581.8 87.1h0M581.9 128.4h0M582 126.1h0M582 131.6h0M582 122.3h0M582 125.7h0M582.1 131.3h0M582.1 132.6h0M582.1 119.6h0M582.2 123h0M582.5 120.8h0M582.6 127.4h0M582.8 129.1h0M582.8 130.4h0M582.8 118.1h0M582.9 130.3h0M583 114.5h0M583.1 133.1h0M583.1 127.5h0M583.2 126.2h0M583.3 131.1h0M583.4 128.2h0M583.5 131.6h0M583.6 123.6h0M583.8 132.5h0M583.8 132.1h0M583.9 128.1h0M584 127.5h0M584 115.9h0M584.1 121.9h0M584.2 94.8h0M584.2 126.8h0M584.3 125.3h0M584.3 120.6h0M584.5 129h0M584.5 131.1h0M584.6 123.2h0M584.7 129.9h0M584.7 129.4h0M584.8 124.4h0M584.9 119h0M584.9 131.7h0M584.9 132.8h0M585.1 127.5h0M585.2 128.1h0M585.2 131.5h0M585.3 123.1h0M585.6 126.3h0M585.7 131.6h0M585.9 132.7h0M585.9 128.1h0M585.9 130.6h0M586 131.7h0M586.3 126.3h0M586.4 127.4h0M586.5 122.9h0M586.6 123.7h0M586.8 127.2h0M586.8 128.1h0M586.9 121.6h0M586.9 131.9h0M587.1 133.1h0M587.3 130.9h0M587.3 123.8h0M587.3 122.9h0M587.5 125.7h0M587.5 129.4h0M587.6 126.7h0M587.7 129.7h0M587.8 128.5h0M587.8 126.1h0M587.8 101.6h0M588.2 131.7h0M588.2 131.1h0M588.3 132.8h0M588.3 82.7h0M588.3 129.1h0M588.4 107.8h0M588.5 127.4h0M588.7 132.7h0M588.7 130.4h0M588.7 122.1h0M588.8 132h0M588.9 125.3h0M589.3 127.7h0M589.3 124.4h0M589.3 128.1h0M589.4 128.8h0M589.4 126.8h0M589.6 128.9h0M589.7 132.8h0M589.7 123h0M589.8 126.9h0M589.8 118.9h0M589.9 126.4h0M590 132.5h0M590 124.9h0M590 127.8h0M590 130.4h0M590.1 125.8h0M590.1 122.2h0M590.4 130.8h0M590.5 129.2h0M590.6 122h0M590.6 130.5h0M590.6 63.4h0M590.6 60h0M590.7 127.7h0M590.7 132.1h0M590.8 126.4h0M591.1 128.4h0M591.1 123h0M591.2 124.5h0M591.3 125.4h0M591.3 131.1h0M591.3 132.7h0M591.5 131.9h0M591.5 132.9h0M591.6 119.7h0M591.7 126.1h0M591.8 124.4h0M591.8 129.6h0M591.8 127.3h0M591.9 131h0M592 130.2h0M592 125.6h0M592.5 123.8h0M592.5 131.8h0M592.5 125.1h0M592.5 120.9h0M592.6 124.8h0M592.7 133h0M592.8 127.2h0M592.9 129.2h0M592.9 130h0M593 114.3h0M593 127.8h0M593.1 130.8h0M593.2 126h0M593.3 133h0M593.4 131.6h0M593.5 131.4h0M593.6 124.2h0M593.6 130.3h0M593.7 129.7h0M593.8 127.3h0M593.8 126h0M594 128.6h0M594 122.7h0M594.1 120.6h0M594.3 127.7h0M594.3 123.4h0M594.3 131.6h0M594.5 126.2h0M594.5 125h0M594.6 124.7h0M594.7 93.8h0M594.7 130.2h0M594.8 128.3h0M594.9 121.3h0M594.9 129.4h0M595 131.4h0M595.2 132.9h0M595.2 128.2h0M595.3 122.8h0M595.3 130.9h0M595.8 130.3h0M595.8 123.7h0M595.9 126.4h0M595.9 129.1h0M596 132.6h0M596.1 132.1h0M596.2 131.4h0M596.3 124.6h0M596.4 128.1h0M596.5 127.1h0M596.6 129.9h0M596.6 117.3h0M596.8 132.5h0M596.9 132.9h0M597.2 130.1h0M597.6 132h0M597.7 132.9h0M597.7 129.3h0M597.8 128.2h0M597.9 131.2h0M598 127.4h0M598.1 125h0M598.1 130.2h0M598.2 132.6h0M598.3 132.4h0M598.3 121.4h0M598.7 127.4h0M598.8 130.9h0M599 131.3h0M599.5 132.9h0M599.6 129.1h0M599.7 131.9h0M600 132.7h0M600.5 131.5h0M600.8 131.9h0M600.9 132.4h0M601.2 132.8h0M602 130.9h0M602.2 132.1h0M602.7 126.3h0M602.8 131.1h0" stroke="#29b6f6" stroke-width="1.85" stroke-linecap="round" fill="none"/>
<path d="M623.6 133.1h0M623.9 133.1h0M624.6 130.1h0M624.7 132.9h0M625.5 132.1h0M625.5 129.3h0M625.6 132.2h0M625.7 127.7h0M626.2 128.2h0M626.2 131.5h0M626.3 133.2h0M626.4 130.2h0M626.7 126.7h0M626.9 127.1h0M626.9 131.5h0M627.3 132.1h0M627.3 133.1h0M627.4 130.6h0M627.5 132h0M627.5 129.9h0M627.6 129.5h0M627.7 122.5h0M628 127.6h0M628.1 131.3h0M628.2 132.8h0M628.9 131.2h0M629.3 132.6h0M629.3 131.9h0M629.3 127.7h0M629.3 130.3h0M629.4 132.2h0M629.4 130.2h0M629.5 129.3h0M629.5 119.6h0M630 125h0M630 131.1h0M630.1 128h0M630.2 132.9h0M630.4 126.5h0M630.4 127.6h0M630.5 132.9h0M630.6 125h0M630.7 128.3h0M631 131.6h0M631 130.6h0M631.1 131.3h0M631.3 131.1h0M631.4 131.9h0M631.4 133.1h0M631.5 121.6h0M631.5 129.5h0M631.7 127.5h0M631.7 128h0M631.9 123.1h0M632 124.5h0M632.5 130.1h0M632.8 129.4h0M632.8 127.6h0M632.8 132.3h0M632.9 128.3h0M632.9 97.6h0M633 133.1h0M633.1 130.8h0M633.5 129.8h0M633.6 127h0M633.6 131.5h0M634 132.2h0M634.1 132.7h0M634.2 130.6h0M634.3 122.4h0M634.4 133h0M634.4 131.2h0M634.5 131.7h0M634.7 127.3h0M635 126.6h0M635.1 132.8h0M635.5 130.8h0M635.6 121.9h0M635.7 129.3h0M635.8 124.5h0M635.8 128.4h0M635.9 131.7h0M635.9 130.4h0M635.9 116.6h0M636 127.2h0M636.1 128.4h0M636.2 130.4h0M636.3 132h0M636.4 133h0M636.5 131.6h0M636.6 129.5h0M636.9 124.9h0M637 129.7h0M637 123.1h0M637.4 125h0M637.7 132.2h0M637.7 126.4h0M637.8 128.6h0M637.8 130.8h0M638.1 125.8h0M638.2 129.7h0M638.3 93.5h0M638.4 130.4h0M638.5 131.4h0M638.5 123.6h0M638.5 127.9h0M638.7 131.8h0M638.7 132.7h0M638.7 122.6h0M638.9 127.1h0M639.2 129.2h0M639.3 129.8h0M639.7 98.6h0M639.8 128.2h0M639.9 133.1h0M639.9 123.7h0M640 129h0M640.2 128.3h0M640.5 127.7h0M640.5 126.5h0M640.7 130.3h0M640.8 131.4h0M641 129.6h0M641 132h0M641.3 130.2h0M641.4 126.1h0M641.6 131h0M641.7 123.9h0M641.8 128.6h0M641.9 126.1h0M642.1 133.1h0M642.2 82.7h0M642.4 129.9h0M642.5 125.5h0M642.7 127.3h0M642.8 126.3h0M642.9 125.1h0M643.1 129h0M643.2 130.6h0M643.2 132.8h0M643.5 126.8h0M643.5 128.4h0M643.6 123.3h0M643.9 121.7h0M643.9 132.9h0M644.1 128h0M644.3 129.4h0M644.7 125.8h0M644.7 131.2h0M645 132.3h0M645.1 98.6h0M645.5 129h0M645.5 132.3h0M645.7 130.7h0M646 123.7h0M646.1 127.5h0M646.2 129.8h0M646.5 114.7h0M647 128.6h0M647.4 125.6h0M647.4 129.9h0M647.5 131.6h0M647.6 131h0M648 125.4h0M648.1 126.5h0M648.2 122.7h0M648.9 130.1h0M649.3 111.6h0M649.9 105.5h0M650.1 122.8h0M650.4 122.1h0M650.5 126.4h0M650.8 118.8h0M650.8 129.1h0M652 125.2h0M653.8 118h0M654.6 122.7h0M654.6 125.3h0M655.2 109.6h0M657 125h0M657.7 126.8h0M659.9 125h0M660.2 123.7h0M660.4 124.4h0M662.6 119.8h0M663.7 122.8h0M664.1 120.7h0M664.3 120.1h0M668.3 114h0M669 118.5h0M670.5 116.1h0M670.9 119h0M672 114.6h0M675 131.1h0M678.1 108.7h0M678.3 111.7h0" stroke="#f83a3a" stroke-width="1.85" stroke-linecap="round" fill="none"/>
<path d="M582.3 133.2h0M582.5 133.2h0M583.8 133.6h0M583.9 133.6h0M585.3 133.7h0M585.6 134.3h0M585.9 133.8h0M586.2 133.3h0M586.5 134h0M587.1 133.6h0M587.5 134.1h0M587.5 134.8h0M588.1 134.9h0M588.2 133.5h0M588.2 134h0M588.4 135.1h0M588.7 134.5h0M589 133.4h0M589.5 134.7h0M589.5 133.6h0M589.8 134.3h0M589.9 134.8h0M590.3 134.4h0M590.6 135.5h0M590.6 133.7h0M590.6 133.3h0M590.7 135.1h0M590.7 134h0M590.7 135.5h0M591.4 134.4h0M591.5 133.6h0M591.7 135.8h0M592 135h0M592.5 133.2h0M592.5 134.9h0M592.6 134.1h0M592.7 135.7h0M593 133.7h0M593.3 134.7h0M593.4 134h0M593.6 135.8h0M593.7 134h0M593.8 134.7h0M593.9 136.2h0M594 135.5h0M594.2 133.4h0M594.5 133.5h0M594.5 136.4h0M594.6 135.2h0M594.9 134.5h0M595 136h0M595.3 135.6h0M595.3 136.3h0M595.5 134.9h0M595.7 133.4h0M595.8 134.1h0M596.4 134h0M596.4 135h0M596.4 136.1h0M596.5 133.6h0M596.5 136.5h0M596.6 135.6h0M597.1 134.7h0M597.3 133.7h0M597.3 134h0M597.3 136.5h0M597.4 136.8h0M597.5 134.4h0M597.5 135.1h0M597.9 135.7h0M597.9 137h0M598.1 133.7h0M598.2 135.1h0M598.3 133.7h0M598.4 136.5h0M598.6 137.1h0M598.7 134.1h0M598.8 135.9h0M598.9 137h0M599.3 135.8h0M599.4 136.7h0M599.4 133.9h0M599.5 133.3h0M599.6 135h0M599.7 134.7h0M599.7 135.6h0M599.8 134.6h0M599.8 133.8h0M600.1 136.4h0M600.2 137.2h0M600.4 137.1h0M600.4 136.5h0M600.4 133.8h0M600.6 134.2h0M600.7 134.9h0M601.1 135.9h0M601.3 134.5h0M601.4 135.6h0M601.5 135.3h0M601.5 136.8h0M601.7 137.4h0M601.7 137.6h0M601.8 133.5h0M601.9 137.3h0M601.9 136.8h0M601.9 135h0M602 134.5h0M602 135.5h0M602.1 133.6h0M602.4 137.7h0M603.1 134.1h0M603.1 135.6h0M603.2 137.3h0M603.2 132.9h0M603.3 134.8h0M603.3 133.3h0M603.3 136.9h0M603.3 137.6h0M603.5 135.2h0M603.5 136h0M603.6 133.7h0M603.6 137.8h0M603.7 136.7h0M604 137.3h0M604 133.9h0M604.2 136.3h0M604.3 135.7h0M604.4 137.9h0M604.5 131.7h0M604.5 133.7h0M604.6 134.9h0M604.6 137.1h0M604.7 134h0M605 137.7h0M605 137.3h0M605.2 134.1h0M605.3 133.2h0M605.3 135.6h0M605.4 136.4h0M605.5 134.7h0M605.5 131.1h0M605.7 135.8h0M605.8 131.1h0M605.8 134.9h0M605.9 136.3h0M605.9 137.3h0M606.1 134.2h0M606.2 137.8h0M606.4 137h0M606.5 136h0M606.6 134.5h0M606.7 137.9h0M606.7 135.2h0M606.7 131h0M607 136.1h0M607.2 137.9h0M607.2 135.9h0M607.4 133.3h0M607.4 134.3h0M607.4 137.5h0M607.4 135.2h0M607.9 136.7h0M608 136.8h0M608 133.9h0M608.1 132.8h0M608.2 135.8h0M608.3 137.8h0M608.4 135.2h0M608.5 137h0M609.1 136.4h0M609.2 137.7h0M609.2 137.5h0M609.3 135.8h0M609.4 136.3h0M609.5 136h0M609.6 133.1h0M609.9 138h0M610 137.6h0M610.1 137.6h0M610.3 136.1h0M610.6 136.5h0M610.8 137.7h0M610.9 137.3h0M611 137.9h0M611.2 136.4h0M611.3 135.4h0M611.7 135.6h0M611.8 134.2h0M612.2 137.8h0M612.3 137.4h0M612.4 137.5h0M612.5 136.1h0M612.7 138.2h0M613.5 136.4h0M613.8 136.9h0M613.8 137.8h0M613.9 134.6h0M614.1 137.5h0M614.1 136.8h0M614.2 135.8h0M614.3 137.7h0M614.7 136.9h0M614.8 137.8h0M614.9 136.5h0M615.2 135.8h0M615.5 136.8h0M615.7 135h0M615.9 135.9h0M615.9 138.1h0M616 137.1h0M616.4 137.7h0M616.4 136.1h0M616.8 137.3h0M616.8 136.8h0M617.1 136.7h0M617.2 137.5h0M617.2 134.8h0M617.3 137.7h0M617.3 135.7h0M617.5 133.7h0M617.7 136.8h0M617.7 133h0M617.9 135h0M618 136h0M618.2 137.6h0M618.3 136.9h0M618.4 136.7h0M618.4 137.6h0M618.6 137.7h0M618.7 135h0M618.7 135.8h0M619.3 134.3h0M619.4 138h0M619.4 135h0M619.6 136.6h0M619.6 137.2h0M619.6 133.8h0M619.8 136.1h0M619.9 134.4h0M619.9 137.4h0M620 136.6h0M620.1 132.7h0M620.3 135.8h0M620.4 133.4h0M620.4 135.1h0M620.6 137.7h0M620.7 135.5h0M620.9 137.2h0M621.1 133.9h0M621.1 133.8h0M621.1 136.3h0M621.2 134.9h0M621.2 137.9h0M621.4 134.8h0M621.5 136.7h0M621.6 135.8h0M621.6 134.5h0M621.8 137.6h0M621.8 133.9h0M621.9 128.3h0M622.1 137.7h0M622.1 135.7h0M622.1 136.7h0M622.2 135.1h0M622.3 137.7h0M622.3 134.4h0M622.3 137.4h0M622.3 130.5h0M622.8 133.6h0M622.9 137.1h0M622.9 137.7h0M623.2 135.7h0M623.2 135.2h0M623.3 136.4h0M623.6 133.4h0M623.6 134.1h0M623.8 134.9h0M623.9 137.5h0M623.9 133.2h0M624.1 136.2h0M624.1 134.1h0M624.3 135.8h0M624.4 137.1h0M624.6 133.7h0M624.8 135h0M624.9 134.4h0M624.9 136.5h0M624.9 135.8h0M625.2 136h0M625.2 135.3h0M625.3 133.7h0M625.3 134.3h0M625.3 137.1h0M625.4 136.2h0M625.9 136.4h0M625.9 135.2h0M626 136.9h0M626.3 133.8h0M626.4 134.4h0M626.5 135.5h0M626.6 136.4h0M626.8 137.1h0M626.9 134.7h0M627.2 133.7h0M627.3 134.6h0M627.4 135.8h0M627.4 137h0M627.4 134.1h0M627.6 136.7h0M627.7 135.6h0M627.8 133.7h0M627.9 135h0M628.2 133.9h0M628.3 136.6h0M628.3 134.6h0M628.6 135.5h0M628.7 134.7h0M629.2 135h0M629.2 135.5h0M629.4 136.4h0M629.5 133.3h0M629.5 134.2h0M629.8 134.6h0M629.9 136.2h0M630.1 133.8h0M630.2 135.1h0M630.4 135.4h0M630.4 135.6h0M630.5 134.5h0M630.7 133.8h0M630.8 135h0M631 136.3h0M631.3 135.5h0M631.4 134.7h0M631.5 134.4h0M631.7 133.7h0M632.1 134.6h0M632.2 135.7h0M632.2 133.9h0M632.4 133.6h0M633 135.3h0M633.3 134.3h0M633.3 135.6h0M633.4 133.6h0M633.9 133.6h0M633.9 134.8h0M634 134.2h0M634.1 135.4h0M634.2 135.6h0M634.2 134.1h0M634.4 135.3h0M634.5 133.2h0M635 135.2h0M635 135.5h0M635 134.6h0M635.5 133.8h0M635.8 135.2h0M636.2 133.7h0M636.3 134.4h0M636.4 135.1h0M636.6 133.3h0M636.7 134.3h0M637.2 134.8h0M637.6 134.5h0M637.7 133.2h0M637.9 133.9h0M637.9 133.9h0M638.7 134.3h0M638.9 133.4h0M640 133.6h0M640 134h0M640.2 133.5h0M640.2 134h0M641.6 133.7h0M641.9 133.2h0M642.9 133.3h0" stroke="#000" stroke-width="1.2" stroke-linecap="round" fill="none"/>
<rect x="541.4" y="33.9" width="138.6" height="108.7" fill="none" stroke="#888" stroke-width="0.7"/>
<text x="562.9" y="153.9" font-size="9.6" text-anchor="middle" fill="#111">-10</text>
<text x="587.1" y="153.9" font-size="9.6" text-anchor="middle" fill="#111">-5</text>
<text x="612.7" y="153.9" font-size="9.6" text-anchor="middle" fill="#111">0</text>
<text x="636.9" y="153.9" font-size="9.6" text-anchor="middle" fill="#111">5</text>
<text x="661" y="153.9" font-size="9.6" text-anchor="middle" fill="#111">10</text>
<text font-size="9.6" text-anchor="middle" fill="#111" transform="translate(537.4 138.3) rotate(-90)">0</text>
<text font-size="9.6" text-anchor="middle" fill="#111" transform="translate(537.4 112.7) rotate(-90)">10</text>
<text font-size="9.6" text-anchor="middle" fill="#111" transform="translate(537.4 87.1) rotate(-90)">20</text>
<text font-size="9.6" text-anchor="middle" fill="#111" transform="translate(537.4 61.5) rotate(-90)">30</text>
<text font-size="9.6" text-anchor="middle" fill="#111" transform="translate(537.4 35.9) rotate(-90)">40</text>
<path d="M564.4 142.6v3M588.6 142.6v3M612.7 142.6v3M636.9 142.6v3M661 142.6v3M541.4 138.3h-3M541.4 112.7h-3M541.4 87.1h-3M541.4 61.5h-3M541.4 35.9h-3" stroke="#666" stroke-width="0.7" fill="none"/>
<text x="607.7" y="167.8" font-size="9.7" text-anchor="middle" fill="#111">log2FC</text>
<text font-size="9.7" text-anchor="middle" fill="#111" transform="translate(521.9 91.6) rotate(-90)">-log10(Padj)</text>
<text x="612.9" y="26.6" font-size="9.45" text-anchor="middle" font-weight="bold" fill="#111">GSE200427: CRC vs Adjacent</text>
<rect x="541.4" y="119.3" width="25.1" height="23.3" fill="#fff" stroke="#777" stroke-width="0.6"/>
<text x="542.6" y="126.3" font-size="4.5" fill="#222">Padj&lt;0.01</text>
<circle cx="544.8" cy="132.6" r="0.7" fill="#29b6f6"/>
<circle cx="544.8" cy="138.2" r="0.7" fill="#f83a3a"/>
<text x="548.4" y="134.2" font-size="5.2" fill="#222">down</text>
<text x="548.4" y="139.8" font-size="5.2" fill="#222">up</text>
<text x="2" y="11.4" font-size="13.2" font-weight="bold">A</text>
<ellipse cx="99.8" cy="336" rx="91" ry="46" transform="rotate(24.1 99.8 336)" fill="#5f0069" fill-opacity="0.5"/>
<ellipse cx="107.2" cy="315.1" rx="91" ry="46" transform="rotate(97.2 107.2 315.1)" fill="#5a9bd4" fill-opacity="0.5"/>
<ellipse cx="128.2" cy="319.2" rx="91" ry="46" transform="rotate(-9.5 128.2 319.2)" fill="#5973eb" fill-opacity="0.5"/>
<ellipse cx="132" cy="340.9" rx="91" ry="46" transform="rotate(62.8 132 340.9)" fill="#c4c80f" fill-opacity="0.5"/>
<ellipse cx="111.4" cy="351.9" rx="91" ry="46" transform="rotate(132.6 111.4 351.9)" fill="#ff7500" fill-opacity="0.5"/>
<text x="87.5" y="221" font-size="10.05" fill="#5a9bd4">GSE143939</text>
<text x="2" y="278.5" font-size="10.05" fill="#800080">GSE142279</text>
<text x="180.5" y="274" font-size="10.05" fill="#6478f0">GSE196006</text>
<text x="49" y="434.5" font-size="10.05" fill="#ff7f0e">TF list</text>
<text x="140.5" y="434.5" font-size="10.05" fill="#bdbd22">GSE200427</text>
<text x="113.9" y="246" font-size="8.7" text-anchor="middle" font-weight="bold" fill="#111">930</text>
<text x="102" y="271.5" font-size="8.7" text-anchor="middle" font-weight="bold" fill="#111">143</text>
<text x="146.5" y="278.5" font-size="8.7" text-anchor="middle" font-weight="bold" fill="#111">32</text>
<text x="70.3" y="288.8" font-size="8.7" text-anchor="middle" font-weight="bold" fill="#111">?</text>
<text x="79.5" y="288.3" font-size="8.7" text-anchor="middle" font-weight="bold" fill="#111">?</text>
<text x="114.3" y="286.5" font-size="8.7" text-anchor="middle" font-weight="bold" fill="#111">7</text>
<text x="152" y="288" font-size="8.7" text-anchor="middle" font-weight="bold" fill="#111">1</text>
<text x="138.8" y="297.5" font-size="8.7" text-anchor="middle" font-weight="bold" fill="#111">1</text>
<text x="171.5" y="299.5" font-size="8.7" text-anchor="middle" font-weight="bold" fill="#111">3</text>
<text x="87.5" y="301" font-size="8.7" text-anchor="middle" font-weight="bold" fill="#111">184</text>
<text x="33.5" y="304.5" font-size="8.7" text-anchor="middle" font-weight="bold" fill="#111">428</text>
<text x="198.5" y="310.5" font-size="8.7" text-anchor="middle" font-weight="bold" fill="#111">85</text>
<text x="68" y="319" font-size="8.7" text-anchor="middle" font-weight="bold" fill="#111">122</text>
<text x="164.3" y="319" font-size="8.7" text-anchor="middle" font-weight="bold" fill="#111">1</text>
<text x="49.5" y="328.8" font-size="8.7" text-anchor="middle" font-weight="bold" fill="#111">85</text>
<text x="117.3" y="334" font-size="8.7" text-anchor="middle" font-weight="bold" fill="#111">14</text>
<text x="74.5" y="351" font-size="8.7" text-anchor="middle" font-weight="bold" fill="#111">8</text>
<text x="158.5" y="348" font-size="8.7" text-anchor="middle" font-weight="bold" fill="#111">2</text>
<text x="58" y="356.5" font-size="8.7" text-anchor="middle" font-weight="bold" fill="#111">4</text>
<text x="180.5" y="344" font-size="8.7" text-anchor="middle" font-weight="bold" fill="#111">4</text>
<text x="174.5" y="353.5" font-size="8.7" text-anchor="middle" font-weight="bold" fill="#111">40</text>
<text x="58" y="367.5" font-size="8.7" text-anchor="middle" font-weight="bold" fill="#111">25</text>
<text x="83.5" y="377" font-size="8.7" text-anchor="middle" font-weight="bold" fill="#111">13</text>
<text x="144.5" y="377.5" font-size="8.7" text-anchor="middle" font-weight="bold" fill="#111">1</text>
<text x="167.8" y="376.5" font-size="8.7" text-anchor="middle" font-weight="bold" fill="#111">89</text>
<text x="119.3" y="382" font-size="8.7" text-anchor="middle" font-weight="bold" fill="#111">12</text>
<text x="92.5" y="398.5" font-size="8.7" text-anchor="middle" font-weight="bold" fill="#111">44</text>
<text x="116.8" y="397" font-size="8.7" text-anchor="middle" font-weight="bold" fill="#111">6</text>
<text x="126" y="400" font-size="8.7" text-anchor="middle" font-weight="bold" fill="#111">17</text>
<text x="61.3" y="411.5" font-size="8.7" text-anchor="middle" font-weight="bold" fill="#111">1513</text>
<text x="167.8" y="411.5" font-size="8.7" text-anchor="middle" font-weight="bold" fill="#111">166</text>
<text x="7.2" y="215.6" font-size="13.9" font-weight="bold">B</text>
<path d="M373.8 448.2 Q373.8 341.6 403.1 232.2 A113.3 113.3 0 0 0 373.8 228.3 Q373.8 341.6 298.4 417 A106.6 106.6 0 0 0 373.8 448.2 Z" fill="#5050ff" stroke="#5050ff" stroke-width="0.9"/>
<path d="M298.4 417 Q373.8 341.6 430.4 243.5 A113.3 113.3 0 0 0 403.1 232.2 Q373.8 341.6 267.2 341.6 A106.6 106.6 0 0 0 298.4 417 Z" fill="#5050ff" stroke="#5050ff" stroke-width="0.9"/>
<path d="M298.4 266.2 Q373.8 341.6 453.9 261.5 A113.3 113.3 0 0 0 430.4 243.5 Q373.8 341.6 307.3 258.3 A106.6 106.6 0 0 0 298.4 266.2 Z" fill="#5050ff" stroke="#5050ff" stroke-width="0.9"/>
<path d="M267.2 341.6 Q373.8 341.6 471.9 284.9 A113.3 113.3 0 0 0 453.9 261.5 Q373.8 341.6 270.8 314 A106.6 106.6 0 0 0 267.2 341.6 Z" fill="#b06c48" stroke="#b06c48" stroke-width="0.3"/>
<path d="M307.3 258.3 Q373.8 341.6 483.2 312.3 A113.3 113.3 0 0 0 471.9 284.9 Q373.8 341.6 317.1 251.3 A106.6 106.6 0 0 0 307.3 258.3 Z" fill="#8c5032" stroke="#8c5032" stroke-width="0.3"/>
<path d="M270.8 314 Q373.8 341.6 487.1 341.6 A113.3 113.3 0 0 0 483.2 312.3 Q373.8 341.6 281.5 288.3 A106.6 106.6 0 0 0 270.8 314 Z" fill="#b08464" stroke="#b08464" stroke-width="0.3"/>
<path d="M317.1 251.3 Q373.8 341.6 483.2 370.9 A113.3 113.3 0 0 0 487.1 341.6 Q373.8 341.6 327.5 245.6 A106.6 106.6 0 0 0 317.1 251.3 Z" fill="#aea064" stroke="#aea064" stroke-width="0.3"/>
<path d="M327.5 245.6 Q373.8 341.6 471.9 398.2 A113.3 113.3 0 0 0 483.2 370.9 Q373.8 341.6 338.6 241 A106.6 106.6 0 0 0 327.5 245.6 Z" fill="#b4b400" stroke="#b4b400" stroke-width="0.3"/>
<path d="M338.6 241 Q373.8 341.6 453.9 421.7 A113.3 113.3 0 0 0 471.9 398.2 Q373.8 341.6 350.1 237.7 A106.6 106.6 0 0 0 338.6 241 Z" fill="#0868e8" stroke="#0868e8" stroke-width="0.3"/>
<path d="M281.5 288.3 Q373.8 341.6 430.4 439.7 A113.3 113.3 0 0 0 453.9 421.7 Q373.8 341.6 298.4 266.2 A106.6 106.6 0 0 0 281.5 288.3 Z" fill="#981010" stroke="#981010" stroke-width="0.3"/>
<path d="M350.1 237.7 Q373.8 341.6 403.1 451 A113.3 113.3 0 0 0 430.4 439.7 Q373.8 341.6 361.9 235.7 A106.6 106.6 0 0 0 350.1 237.7 Z" fill="#089858" stroke="#089858" stroke-width="0.3"/>
<path d="M361.9 235.7 Q373.8 341.6 373.8 454.9 A113.3 113.3 0 0 0 403.1 451 Q373.8 341.6 373.8 235 A106.6 106.6 0 0 0 361.9 235.7 Z" fill="#900088" stroke="#900088" stroke-width="0.3"/>
<path d="M373.8 223.1 A118.5 118.5 0 0 1 457.6 257.8 L453.7 261.7 A113 113 0 0 0 373.8 228.6 Z" fill="#5050ff"/>
<path d="M457.6 257.8 A118.5 118.5 0 0 1 476.4 282.4 L471.7 285.1 A113 113 0 0 0 453.7 261.7 Z" fill="#b06c48"/>
<path d="M476.4 282.4 A118.5 118.5 0 0 1 488.3 310.9 L482.9 312.4 A113 113 0 0 0 471.7 285.1 Z" fill="#8c5032"/>
<path d="M488.3 310.9 A118.5 118.5 0 0 1 492.3 341.6 L486.8 341.6 A113 113 0 0 0 482.9 312.4 Z" fill="#b08464"/>
<path d="M492.3 341.6 A118.5 118.5 0 0 1 488.3 372.3 L482.9 370.8 A113 113 0 0 0 486.8 341.6 Z" fill="#aea064"/>
<path d="M488.3 372.3 A118.5 118.5 0 0 1 476.4 400.9 L471.7 398.1 A113 113 0 0 0 482.9 370.8 Z" fill="#b4b400"/>
<path d="M476.4 400.9 A118.5 118.5 0 0 1 457.6 425.4 L453.7 421.5 A113 113 0 0 0 471.7 398.1 Z" fill="#0868e8"/>
<path d="M457.6 425.4 A118.5 118.5 0 0 1 433.1 444.2 L430.3 439.5 A113 113 0 0 0 453.7 421.5 Z" fill="#981010"/>
<path d="M433.1 444.2 A118.5 118.5 0 0 1 404.5 456.1 L403 450.7 A113 113 0 0 0 430.3 439.5 Z" fill="#089858"/>
<path d="M404.5 456.1 A118.5 118.5 0 0 1 373.8 460.1 L373.8 454.6 A113 113 0 0 0 403 450.7 Z" fill="#900088"/>
<path d="M373.8 228.6 A113 113 0 0 1 453.7 261.7 L450 265.4 A107.8 107.8 0 0 0 373.8 233.8 Z" fill="#a6f05a"/>
<path d="M453.7 261.7 A113 113 0 0 1 472 285.6 L467.4 288.2 A107.8 107.8 0 0 0 450 265.4 Z" fill="#447ae2"/>
<path d="M471.7 285.1 A113 113 0 0 1 483.1 312.9 L478.1 314.2 A107.8 107.8 0 0 0 467.2 287.7 Z" fill="#4a74dd"/>
<path d="M482.9 312.4 A113 113 0 0 1 486.8 342.2 L481.6 342.2 A107.8 107.8 0 0 0 477.9 313.7 Z" fill="#506dd8"/>
<path d="M486.8 341.6 A113 113 0 0 1 482.8 371.4 L477.8 370 A107.8 107.8 0 0 0 481.6 341.6 Z" fill="#5566d4"/>
<path d="M482.9 370.8 A113 113 0 0 1 471.4 398.6 L466.9 396 A107.8 107.8 0 0 0 477.9 369.5 Z" fill="#5b60cf"/>
<path d="M471.7 398.1 A113 113 0 0 1 453.3 421.9 L449.6 418.2 A107.8 107.8 0 0 0 467.2 395.5 Z" fill="#615aca"/>
<path d="M453.7 421.5 A113 113 0 0 1 429.8 439.8 L427.2 435.2 A107.8 107.8 0 0 0 450 417.8 Z" fill="#6653c6"/>
<path d="M430.3 439.5 A113 113 0 0 1 402.5 450.9 L401.2 445.9 A107.8 107.8 0 0 0 427.7 435 Z" fill="#6c4cc1"/>
<path d="M403 450.7 A113 113 0 0 1 373.8 454.6 L373.8 449.4 A107.8 107.8 0 0 0 401.7 445.7 Z" fill="#7246bc"/>
<path d="M373.8 460.1 A118.5 118.5 0 0 1 290 425.4 L297.6 417.8 A107.8 107.8 0 0 0 373.8 449.4 Z" fill="#7040b0"/>
<path d="M290 425.4 A118.5 118.5 0 0 1 255.3 341.6 L266 341.6 A107.8 107.8 0 0 0 297.6 417.8 Z" fill="#4078e0"/>
<path d="M255.3 341.6 A118.5 118.5 0 0 1 290 257.8 L297.6 265.4 A107.8 107.8 0 0 0 266 341.6 Z" fill="#1ec8c3"/>
<path d="M290 257.8 A118.5 118.5 0 0 1 373.8 223.1 L373.8 233.8 A107.8 107.8 0 0 0 297.6 265.4 Z" fill="#44e878"/>
<text transform="translate(328.2 225.6) rotate(-22.5)" y="3.7" font-size="10.4" text-anchor="middle" fill="#111">RXRG</text>
<text transform="translate(259.7 292) rotate(-66.5)" y="3.7" font-size="10.4" text-anchor="middle" fill="#111">PDX1</text>
<text transform="translate(258.9 392.1) rotate(66.3)" y="3.7" font-size="10.4" text-anchor="middle" fill="#111">FEV</text>
<text transform="translate(329.5 458.5) rotate(20.8)" y="3.7" font-size="10.4" text-anchor="middle" fill="#111">ETV4</text>
<text x="253" y="215.8" font-size="14" font-weight="bold">C</text>
<defs><linearGradient id="gc" x1="0" x2="1" y1="0" y2="0"><stop offset="0" stop-color="#7346be"/><stop offset="0.3" stop-color="#416ee1"/><stop offset="0.55" stop-color="#1ebec8"/><stop offset="0.78" stop-color="#3ce682"/><stop offset="1" stop-color="#aaf050"/></linearGradient></defs>
<rect x="499" y="232.3" width="85.8" height="12.1" fill="url(#gc)"/>
<text x="511.8" y="256.8" font-size="9.6" text-anchor="middle" fill="#111">1.5</text>
<text x="528.5" y="256.8" font-size="9.6" text-anchor="middle" fill="#111">2.0</text>
<text x="545.8" y="256.8" font-size="9.6" text-anchor="middle" fill="#111">2.5</text>
<text x="563.2" y="256.8" font-size="9.6" text-anchor="middle" fill="#111">3.0</text>
<text x="579.9" y="256.8" font-size="9.6" text-anchor="middle" fill="#111">3.5</text>
<path d="M499 244.4v2.6M584.4 244.4v2.6M512.5 244.4v2.6M529.2 244.4v2.6M546.5 244.4v2.6M563.9 244.4v2.6M580.6 244.4v2.6" stroke="#222" stroke-width="0.6" fill="none"/>
<text x="544.8" y="228.8" font-size="9.9" text-anchor="middle" fill="#111">-log10(pvalue)</text>
<text x="543.2" y="270.2" font-size="9.9" text-anchor="middle" fill="#111">KEGG Pathways</text>
<circle cx="505.5" cy="294.5" r="6.6" fill="#5050ff"/>
<text x="514.4" y="297.7" font-size="9.9" fill="#111">Transcriptional misregulation in cancer</text>
<circle cx="505.5" cy="309.6" r="6.6" fill="#b06c48"/>
<text x="514.4" y="312.8" font-size="9.9" fill="#111">Maturity onset diabetes of the young</text>
<circle cx="505.5" cy="324.9" r="6.6" fill="#8c5032"/>
<text x="514.4" y="328.1" font-size="9.9" fill="#111">Thyroid cancer</text>
<circle cx="505.5" cy="340" r="6.6" fill="#b08464"/>
<text x="514.4" y="343.2" font-size="9.9" fill="#111">Type II diabetes mellitus</text>
<circle cx="505.5" cy="355.1" r="6.6" fill="#aea064"/>
<text x="516" y="358.3" font-size="9.9" fill="#111">Non-small cell lung cancer</text>
<circle cx="505.5" cy="370.4" r="6.6" fill="#b4b400"/>
<text x="514.4" y="373.6" font-size="9.9" fill="#111">Adipocytokine signaling pathway</text>
<circle cx="505.5" cy="386.8" r="6.6" fill="#0868e8"/>
<text x="514.4" y="390" font-size="9.9" fill="#111">PPAR signaling pathway</text>
<circle cx="505.5" cy="401.6" r="6.6" fill="#981010"/>
<text x="514.4" y="404.8" font-size="9.9" fill="#111">Insulin secretion</text>
<circle cx="505.5" cy="417" r="6.6" fill="#089858"/>
<text x="514.4" y="420.2" font-size="9.9" fill="#111">Small cell lung cancer</text>
<circle cx="505.5" cy="432" r="6.6" fill="#900088"/>
<text x="514.4" y="435.2" font-size="9.9" fill="#111">Parathyroid hormone synthesis,</text>
<text x="514.4" y="447.5" font-size="9.9" fill="#111">secretion and action</text>
<rect x="109.4" y="589.7" width="33.3" height="101.9" fill="#daacac" stroke="#2a2a2a" stroke-width="0.9"/>
<rect x="160.5" y="668.9" width="33.3" height="22.7" fill="#dec0a8" stroke="#2a2a2a" stroke-width="0.9"/>
<path d="M91.5 530.3V691.6H211.5 M85.4 530.8H91.5 M85.4 584.4H91.5 M85.4 638H91.5 M85.4 691.6H91.5 M126.3 691.6V697.2 M176.9 691.6V697.2" stroke="#1a1a1a" stroke-width="0.95" fill="none"/>
<text x="82.8" y="535.1" font-size="12.2" text-anchor="end" fill="#111">1.5</text>
<text x="82.8" y="588.7" font-size="12.2" text-anchor="end" fill="#111">1.0</text>
<text x="82.8" y="642.3" font-size="12.2" text-anchor="end" fill="#111">0.5</text>
<text x="82.8" y="695.9" font-size="12.2" text-anchor="end" fill="#111">0.0</text>
<text x="124.6" y="711.3" font-size="12.3" text-anchor="middle" fill="#111">Adjacent</text>
<text x="176.5" y="711.3" font-size="12.3" text-anchor="middle" fill="#111">Tumor</text>
<text font-size="13.05" text-anchor="middle" fill="#111" transform="translate(58.7 611.7) rotate(-90)">Relative mRNA expression of FEV</text>
<path d="M126.1 586.4V593 M176.9 665.8V672" stroke="#111" stroke-width="0.8" fill="none"/>
<g fill="#000"><circle cx="111" cy="589.7" r="1.12"/><circle cx="110.8" cy="585.3" r="1.12"/><circle cx="110.8" cy="587.5" r="1.12"/><circle cx="113.5" cy="591.9" r="1.12"/><circle cx="113.4" cy="587.5" r="1.12"/><circle cx="115.6" cy="591.9" r="1.12"/><circle cx="115.8" cy="594.1" r="1.12"/><circle cx="115.6" cy="585.3" r="1.12"/><circle cx="118" cy="589.7" r="1.12"/><circle cx="118" cy="585.3" r="1.12"/><circle cx="118.2" cy="587.5" r="1.12"/><circle cx="120.5" cy="589.7" r="1.12"/><circle cx="120.3" cy="587.5" r="1.12"/><circle cx="122.8" cy="589.7" r="1.12"/><circle cx="122.8" cy="591.9" r="1.12"/><circle cx="122.8" cy="585.3" r="1.12"/><circle cx="125.1" cy="589.7" r="1.12"/><circle cx="125.2" cy="587.5" r="1.12"/><circle cx="127.5" cy="589.7" r="1.12"/><circle cx="127.6" cy="585.3" r="1.12"/><circle cx="129.9" cy="589.7" r="1.12"/><circle cx="129.6" cy="587.5" r="1.12"/><circle cx="129.7" cy="585.3" r="1.12"/><circle cx="132.3" cy="589.7" r="1.12"/><circle cx="132.2" cy="591.9" r="1.12"/><circle cx="134.5" cy="594.1" r="1.12"/><circle cx="134.4" cy="587.5" r="1.12"/><circle cx="136.9" cy="589.7" r="1.12"/><circle cx="137" cy="585.3" r="1.12"/><circle cx="139" cy="589.7" r="1.12"/><circle cx="139" cy="585.3" r="1.12"/><circle cx="141.4" cy="591.9" r="1.12"/><circle cx="141.4" cy="585.3" r="1.12"/><circle cx="141.4" cy="587.5" r="1.12"/><circle cx="161.8" cy="673" r="1.12"/><circle cx="161.6" cy="666.8" r="1.12"/><circle cx="164" cy="669" r="1.12"/><circle cx="163.9" cy="671.2" r="1.12"/><circle cx="164" cy="666.8" r="1.12"/><circle cx="166.1" cy="669" r="1.12"/><circle cx="166.2" cy="671.2" r="1.12"/><circle cx="168.6" cy="669" r="1.12"/><circle cx="168.6" cy="671.2" r="1.12"/><circle cx="170.6" cy="669" r="1.12"/><circle cx="170.5" cy="671.2" r="1.12"/><circle cx="172.9" cy="669" r="1.12"/><circle cx="173" cy="671.2" r="1.12"/><circle cx="175.1" cy="669" r="1.12"/><circle cx="175.2" cy="673" r="1.12"/><circle cx="175.2" cy="666.8" r="1.12"/><circle cx="177.5" cy="671.2" r="1.12"/><circle cx="177.4" cy="666.8" r="1.12"/><circle cx="179.5" cy="669" r="1.12"/><circle cx="179.5" cy="671.2" r="1.12"/><circle cx="181.6" cy="671.2" r="1.12"/><circle cx="181.9" cy="673" r="1.12"/><circle cx="181.9" cy="666.8" r="1.12"/><circle cx="184" cy="669" r="1.12"/><circle cx="184.1" cy="673" r="1.12"/><circle cx="183.9" cy="666.8" r="1.12"/><circle cx="186.1" cy="669" r="1.12"/><circle cx="186.1" cy="671.2" r="1.12"/><circle cx="188.5" cy="669" r="1.12"/><circle cx="188.3" cy="673" r="1.12"/><circle cx="190.5" cy="669" r="1.12"/><circle cx="190.6" cy="666.8" r="1.12"/><circle cx="192.8" cy="669" r="1.12"/><circle cx="192.8" cy="671.2" r="1.12"/><circle cx="175.9" cy="675.5" r="1.12"/><circle cx="178.7" cy="662.8" r="1.12"/><circle cx="176.5" cy="664.9" r="1.12"/><circle cx="180.5" cy="665" r="1.12"/><circle cx="119.8" cy="583.8" r="1.12"/><circle cx="122.8" cy="594.6" r="1.12"/></g>
<path d="M121.4 565.4H173.4 M121.4 561.8V569.2 M173.4 561.8V569.2" stroke="#111" stroke-width="1.1" fill="none"/>
<text x="147.4" y="568" font-size="11.5" text-anchor="middle" fill="#111">*</text>
<text x="6.6" y="505.5" font-size="13.7" font-weight="bold">D</text>
<path d="M461.6 482V735.2M504.5 482V735.2M547.4 482V735.2M590.3 482V735.2M433 495.3H604.4M433 520.4H604.4M433 545.6H604.4M433 570.7H604.4M433 595.8H604.4M433 621H604.4M433 646.1H604.4M433 671.2H604.4M433 696.3H604.4M433 721.5H604.4" stroke="#e4e4e4" stroke-width="0.6" fill="none"/>
<rect x="433" y="482" width="171.4" height="253.2" fill="none" stroke="#222" stroke-width="0.8"/>
<text x="461.6" y="749.8" font-size="9.8" text-anchor="middle" fill="#222">0.2</text>
<text x="504.5" y="749.8" font-size="9.8" text-anchor="middle" fill="#222">0.3</text>
<text x="547.4" y="749.8" font-size="9.8" text-anchor="middle" fill="#222">0.4</text>
<text x="590.3" y="749.8" font-size="9.8" text-anchor="middle" fill="#222">0.5</text>
<text x="427.6" y="499" font-size="10" text-anchor="end" fill="#111">Transcriptional misregulation in cancer</text>
<text x="426.6" y="524.1" font-size="10" text-anchor="end" fill="#111">Maturity onset diabetes of the young</text>
<text x="427.6" y="549.3" font-size="10" text-anchor="end" fill="#111">Thyroid cancer</text>
<text x="425.2" y="574.4" font-size="10" text-anchor="end" fill="#111">Type II diabetes mellitus</text>
<text x="427.6" y="599.5" font-size="10" text-anchor="end" fill="#111">Non-small cell lung cancer</text>
<text x="425.2" y="624.7" font-size="10" text-anchor="end" fill="#111">Adipocytokine signaling pathway</text>
<text x="427.6" y="649.8" font-size="10" text-anchor="end" fill="#111">PPAR signaling pathway</text>
<text x="427.6" y="674.9" font-size="10" text-anchor="end" fill="#111">Insulin secretion</text>
<text x="427.6" y="700" font-size="10" text-anchor="end" fill="#111">Small cell lung cancer</text>
<text x="427.6" y="719.5" font-size="10" text-anchor="end" fill="#111">Parathyroid hormone synthesis,</text>
<text x="427.6" y="731.8" font-size="10" text-anchor="end" fill="#111">secretion and action</text>
<path d="M461.6 735.2v4.6M504.5 735.2v4.6M547.4 735.2v4.6M590.3 735.2v4.6M433 735.2v4.6M604.4 735.2v4.6M433 495.3h-4.8M433 520.4h-4.8M433 545.6h-4.8M433 570.7h-4.8M433 595.8h-4.8M433 621h-4.8M433 646.1h-4.8M433 671.2h-4.8M433 696.3h-4.8M433 721.5h-4.8" stroke="#222" stroke-width="0.7" fill="none"/>
<text x="520.7" y="763" font-size="9.9" text-anchor="middle" fill="#111">GeneRatio</text>
<circle cx="590.3" cy="495.3" r="7.1" fill="#00fb00"/>
<circle cx="446.5" cy="520.4" r="2.8" fill="#0a0ae6"/>
<circle cx="446.5" cy="545.6" r="2.8" fill="#0a0ae6"/>
<circle cx="446.5" cy="570.7" r="2.8" fill="#0a0ae6"/>
<circle cx="446.5" cy="595.8" r="2.8" fill="#0a0ae6"/>
<circle cx="446.5" cy="621" r="2.8" fill="#0a0ae6"/>
<circle cx="446.5" cy="646.1" r="2.8" fill="#0a0ae6"/>
<circle cx="446.5" cy="671.2" r="2.8" fill="#0a0ae6"/>
<circle cx="446.5" cy="696.3" r="2.8" fill="#0a0ae6"/>
<circle cx="446.5" cy="721.5" r="2.8" fill="#0a0ae6"/>
<text x="611.8" y="516.3" font-size="9.8" fill="#111">Count</text>
<circle cx="618.3" cy="527" r="2.5" fill="#454545"/>
<circle cx="618.3" cy="541.1" r="3.6" fill="#454545"/>
<circle cx="618.3" cy="554.9" r="4.7" fill="#454545"/>
<circle cx="618.3" cy="568.7" r="5.5" fill="#454545"/>
<circle cx="618.3" cy="582.7" r="6.2" fill="#454545"/>
<circle cx="618.3" cy="597.1" r="7" fill="#454545"/>
<text x="631.8" y="530.4" font-size="9.5" fill="#222">1.0</text>
<text x="631.8" y="547.6" font-size="9.5" fill="#222">1.5</text>
<text x="631.8" y="564.8" font-size="9.5" fill="#222">2.0</text>
<text x="631.8" y="582.5" font-size="9.5" fill="#222">2.5</text>
<text x="631.8" y="599.9" font-size="9.5" fill="#222">3.0</text>
<path d="M626.2 527V597.1M626.2 527h2.8M626.2 544.2h2.8M626.2 561.4h2.8M626.2 579.1h2.8M626.2 596.5h2.8" stroke="#333" stroke-width="0.7" fill="none"/>
<text x="611.8" y="623.8" font-size="9.9" fill="#111">-log10(pvalue)</text>
<defs><linearGradient id="ge" x1="0" x2="0" y1="0" y2="1"><stop offset="0" stop-color="#0000ff"/><stop offset="0.2" stop-color="#0000f0"/><stop offset="0.36" stop-color="#0000b8"/><stop offset="0.47" stop-color="#000020"/><stop offset="0.5" stop-color="#000000"/><stop offset="0.53" stop-color="#003000"/><stop offset="0.75" stop-color="#00c000"/><stop offset="0.93" stop-color="#00ff00"/><stop offset="1" stop-color="#00ff00"/></linearGradient></defs>
<rect x="611.3" y="631.2" width="14.6" height="73.1" fill="url(#ge)"/>
<text x="631.8" y="645" font-size="9.5" fill="#222">1.5</text>
<text x="631.8" y="659.6" font-size="9.5" fill="#222">2.0</text>
<text x="631.8" y="674.2" font-size="9.5" fill="#222">2.5</text>
<text x="631.8" y="689.2" font-size="9.5" fill="#222">3.0</text>
<text x="631.8" y="704.1" font-size="9.5" fill="#222">3.5</text>
<path d="M625.9 641.6h2.4M625.9 656.2h2.4M625.9 670.8h2.4M625.9 685.8h2.4M625.9 700.7h2.4" stroke="#333" stroke-width="0.7" fill="none"/>
</svg>
</body></html>
